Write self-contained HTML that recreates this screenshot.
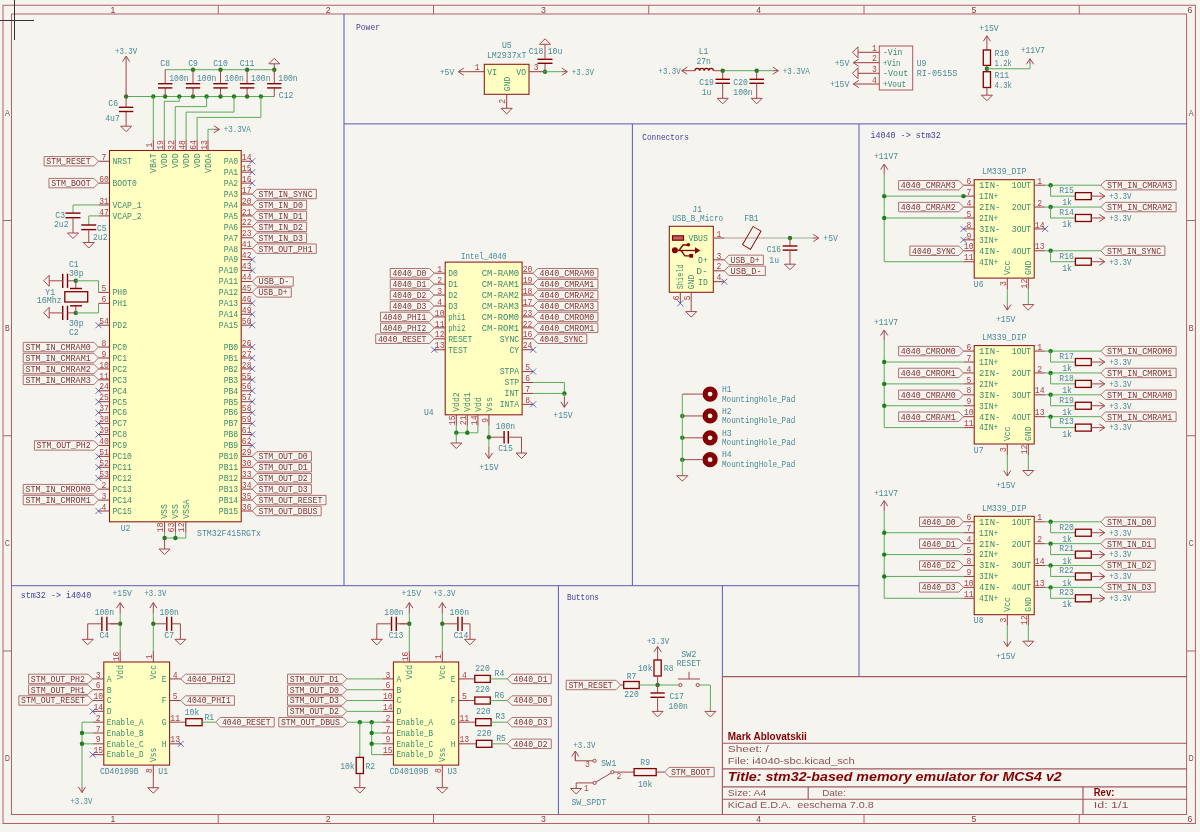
<!DOCTYPE html><html><head><meta charset="utf-8"><style>
body{margin:0;background:#f5f4ef;}
svg{display:block;will-change:transform;}
text{font-family:"Liberation Mono",monospace;font-size:9px;white-space:pre;}
.w{stroke:#5caa5c;stroke-width:1;fill:none;}
.j{fill:#1a801a;}
.ps{stroke:#a0464e;stroke-width:1;fill:none;}
.gs{stroke:#a0464e;stroke-width:1;fill:none;}
.cp{stroke:#840000;stroke-width:1.4;}
.rb{stroke:#840000;stroke-width:1.3;fill:none;}
.nc{stroke:#4a4aa8;stroke-width:0.8;}
.gl{stroke:#aa6a6a;stroke-width:0.95;fill:none;}
.pn{stroke:#9a3a3a;stroke-width:1;fill:none;}
.bdn{stroke:#a85a5a;stroke-width:1;fill:none;}
.bd{stroke:#8a1818;stroke-width:1.05;fill:#ffffc2;}
.rf{fill:#4a8a94;}
.lt{fill:#7a3434;}
.pnum{fill:#a84444;}
.pname{fill:#3a8a70;}
.tbl{stroke:#a05860;stroke-width:1.15;fill:none;}
.ws{stroke:#b0606a;stroke-width:1;fill:none;}
.wt{fill:#8a3a3a;font-size:9.5px;font-family:"Liberation Sans",sans-serif;}
.nl{stroke:#5a5ab8;stroke-width:1;fill:none;}
.nt{fill:#4444a0;font-size:8.5px;}
.tb{fill:#840000;}
.tr{fill:#8a5458;font-size:8.7px;}
.sw{stroke:#a0464e;stroke-width:1;fill:none;}
.cur{stroke:#333;stroke-width:1;}
.mix1{stroke:#b09a98;stroke-width:1.1;}
.mix2{stroke:#9aae98;stroke-width:1.1;}
.usbr{stroke:#840000;stroke-width:1.2;fill:#c06060;}
.usbl{stroke:#840000;stroke-width:1.3;fill:none;}
.usbf{fill:#840000;stroke:none;}
</style></head><body><svg xmlns="http://www.w3.org/2000/svg" width="1200" height="832" viewBox="0 0 1200 832"><rect x="0" y="0" width="1200" height="832" fill="#f5f4ef"/><rect x="3" y="5.25" width="1192.4" height="818.25" class="ws"/>
<rect x="11.5" y="14" width="1175.1" height="800.5" class="ws"/>
<line x1="218.25" y1="5.25" x2="218.25" y2="14" class="ws"/>
<line x1="218.25" y1="814.5" x2="218.25" y2="823.5" class="ws"/>
<line x1="433.5" y1="5.25" x2="433.5" y2="14" class="ws"/>
<line x1="433.5" y1="814.5" x2="433.5" y2="823.5" class="ws"/>
<line x1="648.75" y1="5.25" x2="648.75" y2="14" class="ws"/>
<line x1="648.75" y1="814.5" x2="648.75" y2="823.5" class="ws"/>
<line x1="864" y1="5.25" x2="864" y2="14" class="ws"/>
<line x1="864" y1="814.5" x2="864" y2="823.5" class="ws"/>
<line x1="1079.25" y1="5.25" x2="1079.25" y2="14" class="ws"/>
<line x1="1079.25" y1="814.5" x2="1079.25" y2="823.5" class="ws"/>
<text x="113" y="12.65" text-anchor="middle" class="wt" textLength="4.85" lengthAdjust="spacingAndGlyphs">1</text>
<text x="113" y="822.05" text-anchor="middle" class="wt" textLength="4.85" lengthAdjust="spacingAndGlyphs">1</text>
<text x="328.25" y="12.65" text-anchor="middle" class="wt" textLength="4.85" lengthAdjust="spacingAndGlyphs">2</text>
<text x="328.25" y="822.05" text-anchor="middle" class="wt" textLength="4.85" lengthAdjust="spacingAndGlyphs">2</text>
<text x="543.5" y="12.65" text-anchor="middle" class="wt" textLength="4.85" lengthAdjust="spacingAndGlyphs">3</text>
<text x="543.5" y="822.05" text-anchor="middle" class="wt" textLength="4.85" lengthAdjust="spacingAndGlyphs">3</text>
<text x="758.75" y="12.65" text-anchor="middle" class="wt" textLength="4.85" lengthAdjust="spacingAndGlyphs">4</text>
<text x="758.75" y="822.05" text-anchor="middle" class="wt" textLength="4.85" lengthAdjust="spacingAndGlyphs">4</text>
<text x="974" y="12.65" text-anchor="middle" class="wt" textLength="4.85" lengthAdjust="spacingAndGlyphs">5</text>
<text x="974" y="822.05" text-anchor="middle" class="wt" textLength="4.85" lengthAdjust="spacingAndGlyphs">5</text>
<text x="1190" y="12.65" text-anchor="middle" class="wt" textLength="4.85" lengthAdjust="spacingAndGlyphs">6</text>
<text x="1190" y="822.05" text-anchor="middle" class="wt" textLength="4.85" lengthAdjust="spacingAndGlyphs">6</text>
<line x1="3" y1="220.5" x2="11.5" y2="220.5" class="ws"/>
<line x1="1187" y1="220.5" x2="1195.4" y2="220.5" class="ws"/>
<line x1="3" y1="435.75" x2="11.5" y2="435.75" class="ws"/>
<line x1="1187" y1="435.75" x2="1195.4" y2="435.75" class="ws"/>
<line x1="3" y1="651" x2="11.5" y2="651" class="ws"/>
<line x1="1187" y1="651" x2="1195.4" y2="651" class="ws"/>
<text x="7.3" y="115.7" text-anchor="middle" class="wt" textLength="4.85" lengthAdjust="spacingAndGlyphs">A</text>
<text x="1191.2" y="115.7" text-anchor="middle" class="wt" textLength="4.85" lengthAdjust="spacingAndGlyphs">A</text>
<text x="7.3" y="330.95" text-anchor="middle" class="wt" textLength="4.85" lengthAdjust="spacingAndGlyphs">B</text>
<text x="1191.2" y="330.95" text-anchor="middle" class="wt" textLength="4.85" lengthAdjust="spacingAndGlyphs">B</text>
<text x="7.3" y="546.2" text-anchor="middle" class="wt" textLength="4.85" lengthAdjust="spacingAndGlyphs">C</text>
<text x="1191.2" y="546.2" text-anchor="middle" class="wt" textLength="4.85" lengthAdjust="spacingAndGlyphs">C</text>
<text x="7.3" y="761.45" text-anchor="middle" class="wt" textLength="4.85" lengthAdjust="spacingAndGlyphs">D</text>
<text x="1191.2" y="761.45" text-anchor="middle" class="wt" textLength="4.85" lengthAdjust="spacingAndGlyphs">D</text>
<line x1="14.5" y1="0" x2="14.5" y2="40" class="cur"/>
<line x1="0" y1="20.5" x2="34" y2="20.5" class="cur"/>
<line x1="344" y1="14" x2="344" y2="585.7" class="nl"/>
<line x1="344" y1="123.9" x2="1187" y2="123.9" class="nl"/>
<line x1="632.4" y1="123.9" x2="632.4" y2="585.7" class="nl"/>
<line x1="859" y1="123.9" x2="859" y2="676.6" class="nl"/>
<line x1="11.5" y1="585.7" x2="859" y2="585.7" class="nl"/>
<line x1="558.4" y1="585.7" x2="558.4" y2="814.5" class="nl"/>
<line x1="722.4" y1="585.7" x2="722.4" y2="676.6" class="nl"/>
<text x="356" y="30.15" text-anchor="start" class="nt" textLength="24.03" lengthAdjust="spacingAndGlyphs">Power</text>
<text x="642.3" y="140.15" text-anchor="start" class="nt" textLength="46.56" lengthAdjust="spacingAndGlyphs">Connectors</text>
<text x="870.4" y="137.55" text-anchor="start" class="nt" textLength="70.5" lengthAdjust="spacingAndGlyphs">i4040 -&gt; stm32</text>
<text x="20.7" y="598.35" text-anchor="start" class="nt" textLength="70.5" lengthAdjust="spacingAndGlyphs">stm32 -&gt; i4040</text>
<text x="566.9" y="599.85" text-anchor="start" class="nt" textLength="32.01" lengthAdjust="spacingAndGlyphs">Buttons</text>
<rect x="109.5" y="150.5" width="131.7" height="371.3" class="bd"/>
<line x1="98.5" y1="161.25" x2="109.5" y2="161.25" class="pn"/>
<text x="104" y="159.9" text-anchor="middle" class="pnum" textLength="4.85" lengthAdjust="spacingAndGlyphs">7</text>
<text x="112.5" y="164.1" text-anchor="start" class="pname" textLength="19.4" lengthAdjust="spacingAndGlyphs">NRST</text>
<line x1="98.5" y1="183.11" x2="109.5" y2="183.11" class="pn"/>
<text x="104" y="181.76" text-anchor="middle" class="pnum" textLength="9.7" lengthAdjust="spacingAndGlyphs">60</text>
<text x="112.5" y="185.96" text-anchor="start" class="pname" textLength="24.25" lengthAdjust="spacingAndGlyphs">BOOT0</text>
<line x1="98.5" y1="204.97" x2="109.5" y2="204.97" class="pn"/>
<text x="104" y="203.62" text-anchor="middle" class="pnum" textLength="9.7" lengthAdjust="spacingAndGlyphs">31</text>
<text x="112.5" y="207.82" text-anchor="start" class="pname" textLength="29.1" lengthAdjust="spacingAndGlyphs">VCAP_1</text>
<line x1="98.5" y1="215.9" x2="109.5" y2="215.9" class="pn"/>
<text x="104" y="214.55" text-anchor="middle" class="pnum" textLength="9.7" lengthAdjust="spacingAndGlyphs">47</text>
<text x="112.5" y="218.75" text-anchor="start" class="pname" textLength="29.1" lengthAdjust="spacingAndGlyphs">VCAP_2</text>
<line x1="98.5" y1="292.41" x2="109.5" y2="292.41" class="pn"/>
<text x="104" y="291.06" text-anchor="middle" class="pnum" textLength="4.85" lengthAdjust="spacingAndGlyphs">5</text>
<text x="112.5" y="295.26" text-anchor="start" class="pname" textLength="14.55" lengthAdjust="spacingAndGlyphs">PH0</text>
<line x1="98.5" y1="303.34" x2="109.5" y2="303.34" class="pn"/>
<text x="104" y="301.99" text-anchor="middle" class="pnum" textLength="4.85" lengthAdjust="spacingAndGlyphs">6</text>
<text x="112.5" y="306.19" text-anchor="start" class="pname" textLength="14.55" lengthAdjust="spacingAndGlyphs">PH1</text>
<line x1="98.5" y1="325.2" x2="109.5" y2="325.2" class="pn"/>
<text x="104" y="323.85" text-anchor="middle" class="pnum" textLength="9.7" lengthAdjust="spacingAndGlyphs">54</text>
<text x="112.5" y="328.05" text-anchor="start" class="pname" textLength="14.55" lengthAdjust="spacingAndGlyphs">PD2</text>
<line x1="98.5" y1="347.06" x2="109.5" y2="347.06" class="pn"/>
<text x="104" y="345.71" text-anchor="middle" class="pnum" textLength="4.85" lengthAdjust="spacingAndGlyphs">8</text>
<text x="112.5" y="349.91" text-anchor="start" class="pname" textLength="14.55" lengthAdjust="spacingAndGlyphs">PC0</text>
<line x1="98.5" y1="357.99" x2="109.5" y2="357.99" class="pn"/>
<text x="104" y="356.64" text-anchor="middle" class="pnum" textLength="4.85" lengthAdjust="spacingAndGlyphs">9</text>
<text x="112.5" y="360.84" text-anchor="start" class="pname" textLength="14.55" lengthAdjust="spacingAndGlyphs">PC1</text>
<line x1="98.5" y1="368.92" x2="109.5" y2="368.92" class="pn"/>
<text x="104" y="367.57" text-anchor="middle" class="pnum" textLength="9.7" lengthAdjust="spacingAndGlyphs">10</text>
<text x="112.5" y="371.77" text-anchor="start" class="pname" textLength="14.55" lengthAdjust="spacingAndGlyphs">PC2</text>
<line x1="98.5" y1="379.85" x2="109.5" y2="379.85" class="pn"/>
<text x="104" y="378.5" text-anchor="middle" class="pnum" textLength="9.7" lengthAdjust="spacingAndGlyphs">11</text>
<text x="112.5" y="382.7" text-anchor="start" class="pname" textLength="14.55" lengthAdjust="spacingAndGlyphs">PC3</text>
<line x1="98.5" y1="390.78" x2="109.5" y2="390.78" class="pn"/>
<text x="104" y="389.43" text-anchor="middle" class="pnum" textLength="9.7" lengthAdjust="spacingAndGlyphs">24</text>
<text x="112.5" y="393.63" text-anchor="start" class="pname" textLength="14.55" lengthAdjust="spacingAndGlyphs">PC4</text>
<line x1="98.5" y1="401.71" x2="109.5" y2="401.71" class="pn"/>
<text x="104" y="400.36" text-anchor="middle" class="pnum" textLength="9.7" lengthAdjust="spacingAndGlyphs">25</text>
<text x="112.5" y="404.56" text-anchor="start" class="pname" textLength="14.55" lengthAdjust="spacingAndGlyphs">PC5</text>
<line x1="98.5" y1="412.64" x2="109.5" y2="412.64" class="pn"/>
<text x="104" y="411.29" text-anchor="middle" class="pnum" textLength="9.7" lengthAdjust="spacingAndGlyphs">37</text>
<text x="112.5" y="415.49" text-anchor="start" class="pname" textLength="14.55" lengthAdjust="spacingAndGlyphs">PC6</text>
<line x1="98.5" y1="423.57" x2="109.5" y2="423.57" class="pn"/>
<text x="104" y="422.22" text-anchor="middle" class="pnum" textLength="9.7" lengthAdjust="spacingAndGlyphs">38</text>
<text x="112.5" y="426.42" text-anchor="start" class="pname" textLength="14.55" lengthAdjust="spacingAndGlyphs">PC7</text>
<line x1="98.5" y1="434.5" x2="109.5" y2="434.5" class="pn"/>
<text x="104" y="433.15" text-anchor="middle" class="pnum" textLength="9.7" lengthAdjust="spacingAndGlyphs">39</text>
<text x="112.5" y="437.35" text-anchor="start" class="pname" textLength="14.55" lengthAdjust="spacingAndGlyphs">PC8</text>
<line x1="98.5" y1="445.43" x2="109.5" y2="445.43" class="pn"/>
<text x="104" y="444.08" text-anchor="middle" class="pnum" textLength="9.7" lengthAdjust="spacingAndGlyphs">40</text>
<text x="112.5" y="448.28" text-anchor="start" class="pname" textLength="14.55" lengthAdjust="spacingAndGlyphs">PC9</text>
<line x1="98.5" y1="456.36" x2="109.5" y2="456.36" class="pn"/>
<text x="104" y="455.01" text-anchor="middle" class="pnum" textLength="9.7" lengthAdjust="spacingAndGlyphs">51</text>
<text x="112.5" y="459.21" text-anchor="start" class="pname" textLength="19.4" lengthAdjust="spacingAndGlyphs">PC10</text>
<line x1="98.5" y1="467.29" x2="109.5" y2="467.29" class="pn"/>
<text x="104" y="465.94" text-anchor="middle" class="pnum" textLength="9.7" lengthAdjust="spacingAndGlyphs">52</text>
<text x="112.5" y="470.14" text-anchor="start" class="pname" textLength="19.4" lengthAdjust="spacingAndGlyphs">PC11</text>
<line x1="98.5" y1="478.22" x2="109.5" y2="478.22" class="pn"/>
<text x="104" y="476.87" text-anchor="middle" class="pnum" textLength="9.7" lengthAdjust="spacingAndGlyphs">53</text>
<text x="112.5" y="481.07" text-anchor="start" class="pname" textLength="19.4" lengthAdjust="spacingAndGlyphs">PC12</text>
<line x1="98.5" y1="489.15" x2="109.5" y2="489.15" class="pn"/>
<text x="104" y="487.8" text-anchor="middle" class="pnum" textLength="4.85" lengthAdjust="spacingAndGlyphs">2</text>
<text x="112.5" y="492" text-anchor="start" class="pname" textLength="19.4" lengthAdjust="spacingAndGlyphs">PC13</text>
<line x1="98.5" y1="500.08" x2="109.5" y2="500.08" class="pn"/>
<text x="104" y="498.73" text-anchor="middle" class="pnum" textLength="4.85" lengthAdjust="spacingAndGlyphs">3</text>
<text x="112.5" y="502.93" text-anchor="start" class="pname" textLength="19.4" lengthAdjust="spacingAndGlyphs">PC14</text>
<line x1="98.5" y1="511.01" x2="109.5" y2="511.01" class="pn"/>
<text x="104" y="509.66" text-anchor="middle" class="pnum" textLength="4.85" lengthAdjust="spacingAndGlyphs">4</text>
<text x="112.5" y="513.86" text-anchor="start" class="pname" textLength="19.4" lengthAdjust="spacingAndGlyphs">PC15</text>
<line x1="241.2" y1="161.25" x2="252.2" y2="161.25" class="pn"/>
<text x="246.7" y="159.9" text-anchor="middle" class="pnum" textLength="9.7" lengthAdjust="spacingAndGlyphs">14</text>
<text x="238.2" y="164.1" text-anchor="end" class="pname" textLength="14.55" lengthAdjust="spacingAndGlyphs">PA0</text>
<line x1="241.2" y1="172.18" x2="252.2" y2="172.18" class="pn"/>
<text x="246.7" y="170.83" text-anchor="middle" class="pnum" textLength="9.7" lengthAdjust="spacingAndGlyphs">15</text>
<text x="238.2" y="175.03" text-anchor="end" class="pname" textLength="14.55" lengthAdjust="spacingAndGlyphs">PA1</text>
<line x1="241.2" y1="183.11" x2="252.2" y2="183.11" class="pn"/>
<text x="246.7" y="181.76" text-anchor="middle" class="pnum" textLength="9.7" lengthAdjust="spacingAndGlyphs">16</text>
<text x="238.2" y="185.96" text-anchor="end" class="pname" textLength="14.55" lengthAdjust="spacingAndGlyphs">PA2</text>
<line x1="241.2" y1="194.04" x2="252.2" y2="194.04" class="pn"/>
<text x="246.7" y="192.69" text-anchor="middle" class="pnum" textLength="9.7" lengthAdjust="spacingAndGlyphs">17</text>
<text x="238.2" y="196.89" text-anchor="end" class="pname" textLength="14.55" lengthAdjust="spacingAndGlyphs">PA3</text>
<line x1="241.2" y1="204.97" x2="252.2" y2="204.97" class="pn"/>
<text x="246.7" y="203.62" text-anchor="middle" class="pnum" textLength="9.7" lengthAdjust="spacingAndGlyphs">20</text>
<text x="238.2" y="207.82" text-anchor="end" class="pname" textLength="14.55" lengthAdjust="spacingAndGlyphs">PA4</text>
<line x1="241.2" y1="215.9" x2="252.2" y2="215.9" class="pn"/>
<text x="246.7" y="214.55" text-anchor="middle" class="pnum" textLength="9.7" lengthAdjust="spacingAndGlyphs">21</text>
<text x="238.2" y="218.75" text-anchor="end" class="pname" textLength="14.55" lengthAdjust="spacingAndGlyphs">PA5</text>
<line x1="241.2" y1="226.83" x2="252.2" y2="226.83" class="pn"/>
<text x="246.7" y="225.48" text-anchor="middle" class="pnum" textLength="9.7" lengthAdjust="spacingAndGlyphs">22</text>
<text x="238.2" y="229.68" text-anchor="end" class="pname" textLength="14.55" lengthAdjust="spacingAndGlyphs">PA6</text>
<line x1="241.2" y1="237.76" x2="252.2" y2="237.76" class="pn"/>
<text x="246.7" y="236.41" text-anchor="middle" class="pnum" textLength="9.7" lengthAdjust="spacingAndGlyphs">23</text>
<text x="238.2" y="240.61" text-anchor="end" class="pname" textLength="14.55" lengthAdjust="spacingAndGlyphs">PA7</text>
<line x1="241.2" y1="248.69" x2="252.2" y2="248.69" class="pn"/>
<text x="246.7" y="247.34" text-anchor="middle" class="pnum" textLength="9.7" lengthAdjust="spacingAndGlyphs">41</text>
<text x="238.2" y="251.54" text-anchor="end" class="pname" textLength="14.55" lengthAdjust="spacingAndGlyphs">PA8</text>
<line x1="241.2" y1="259.62" x2="252.2" y2="259.62" class="pn"/>
<text x="246.7" y="258.27" text-anchor="middle" class="pnum" textLength="9.7" lengthAdjust="spacingAndGlyphs">42</text>
<text x="238.2" y="262.47" text-anchor="end" class="pname" textLength="14.55" lengthAdjust="spacingAndGlyphs">PA9</text>
<line x1="241.2" y1="270.55" x2="252.2" y2="270.55" class="pn"/>
<text x="246.7" y="269.2" text-anchor="middle" class="pnum" textLength="9.7" lengthAdjust="spacingAndGlyphs">43</text>
<text x="238.2" y="273.4" text-anchor="end" class="pname" textLength="19.4" lengthAdjust="spacingAndGlyphs">PA10</text>
<line x1="241.2" y1="281.48" x2="252.2" y2="281.48" class="pn"/>
<text x="246.7" y="280.13" text-anchor="middle" class="pnum" textLength="9.7" lengthAdjust="spacingAndGlyphs">44</text>
<text x="238.2" y="284.33" text-anchor="end" class="pname" textLength="19.4" lengthAdjust="spacingAndGlyphs">PA11</text>
<line x1="241.2" y1="292.41" x2="252.2" y2="292.41" class="pn"/>
<text x="246.7" y="291.06" text-anchor="middle" class="pnum" textLength="9.7" lengthAdjust="spacingAndGlyphs">45</text>
<text x="238.2" y="295.26" text-anchor="end" class="pname" textLength="19.4" lengthAdjust="spacingAndGlyphs">PA12</text>
<line x1="241.2" y1="303.34" x2="252.2" y2="303.34" class="pn"/>
<text x="246.7" y="301.99" text-anchor="middle" class="pnum" textLength="9.7" lengthAdjust="spacingAndGlyphs">46</text>
<text x="238.2" y="306.19" text-anchor="end" class="pname" textLength="19.4" lengthAdjust="spacingAndGlyphs">PA13</text>
<line x1="241.2" y1="314.27" x2="252.2" y2="314.27" class="pn"/>
<text x="246.7" y="312.92" text-anchor="middle" class="pnum" textLength="9.7" lengthAdjust="spacingAndGlyphs">49</text>
<text x="238.2" y="317.12" text-anchor="end" class="pname" textLength="19.4" lengthAdjust="spacingAndGlyphs">PA14</text>
<line x1="241.2" y1="325.2" x2="252.2" y2="325.2" class="pn"/>
<text x="246.7" y="323.85" text-anchor="middle" class="pnum" textLength="9.7" lengthAdjust="spacingAndGlyphs">50</text>
<text x="238.2" y="328.05" text-anchor="end" class="pname" textLength="19.4" lengthAdjust="spacingAndGlyphs">PA15</text>
<line x1="241.2" y1="347.06" x2="252.2" y2="347.06" class="pn"/>
<text x="246.7" y="345.71" text-anchor="middle" class="pnum" textLength="9.7" lengthAdjust="spacingAndGlyphs">26</text>
<text x="238.2" y="349.91" text-anchor="end" class="pname" textLength="14.55" lengthAdjust="spacingAndGlyphs">PB0</text>
<line x1="241.2" y1="357.99" x2="252.2" y2="357.99" class="pn"/>
<text x="246.7" y="356.64" text-anchor="middle" class="pnum" textLength="9.7" lengthAdjust="spacingAndGlyphs">27</text>
<text x="238.2" y="360.84" text-anchor="end" class="pname" textLength="14.55" lengthAdjust="spacingAndGlyphs">PB1</text>
<line x1="241.2" y1="368.92" x2="252.2" y2="368.92" class="pn"/>
<text x="246.7" y="367.57" text-anchor="middle" class="pnum" textLength="9.7" lengthAdjust="spacingAndGlyphs">28</text>
<text x="238.2" y="371.77" text-anchor="end" class="pname" textLength="14.55" lengthAdjust="spacingAndGlyphs">PB2</text>
<line x1="241.2" y1="379.85" x2="252.2" y2="379.85" class="pn"/>
<text x="246.7" y="378.5" text-anchor="middle" class="pnum" textLength="9.7" lengthAdjust="spacingAndGlyphs">55</text>
<text x="238.2" y="382.7" text-anchor="end" class="pname" textLength="14.55" lengthAdjust="spacingAndGlyphs">PB3</text>
<line x1="241.2" y1="390.78" x2="252.2" y2="390.78" class="pn"/>
<text x="246.7" y="389.43" text-anchor="middle" class="pnum" textLength="9.7" lengthAdjust="spacingAndGlyphs">56</text>
<text x="238.2" y="393.63" text-anchor="end" class="pname" textLength="14.55" lengthAdjust="spacingAndGlyphs">PB4</text>
<line x1="241.2" y1="401.71" x2="252.2" y2="401.71" class="pn"/>
<text x="246.7" y="400.36" text-anchor="middle" class="pnum" textLength="9.7" lengthAdjust="spacingAndGlyphs">57</text>
<text x="238.2" y="404.56" text-anchor="end" class="pname" textLength="14.55" lengthAdjust="spacingAndGlyphs">PB5</text>
<line x1="241.2" y1="412.64" x2="252.2" y2="412.64" class="pn"/>
<text x="246.7" y="411.29" text-anchor="middle" class="pnum" textLength="9.7" lengthAdjust="spacingAndGlyphs">58</text>
<text x="238.2" y="415.49" text-anchor="end" class="pname" textLength="14.55" lengthAdjust="spacingAndGlyphs">PB6</text>
<line x1="241.2" y1="423.57" x2="252.2" y2="423.57" class="pn"/>
<text x="246.7" y="422.22" text-anchor="middle" class="pnum" textLength="9.7" lengthAdjust="spacingAndGlyphs">59</text>
<text x="238.2" y="426.42" text-anchor="end" class="pname" textLength="14.55" lengthAdjust="spacingAndGlyphs">PB7</text>
<line x1="241.2" y1="434.5" x2="252.2" y2="434.5" class="pn"/>
<text x="246.7" y="433.15" text-anchor="middle" class="pnum" textLength="9.7" lengthAdjust="spacingAndGlyphs">61</text>
<text x="238.2" y="437.35" text-anchor="end" class="pname" textLength="14.55" lengthAdjust="spacingAndGlyphs">PB8</text>
<line x1="241.2" y1="445.43" x2="252.2" y2="445.43" class="pn"/>
<text x="246.7" y="444.08" text-anchor="middle" class="pnum" textLength="9.7" lengthAdjust="spacingAndGlyphs">62</text>
<text x="238.2" y="448.28" text-anchor="end" class="pname" textLength="14.55" lengthAdjust="spacingAndGlyphs">PB9</text>
<line x1="241.2" y1="456.36" x2="252.2" y2="456.36" class="pn"/>
<text x="246.7" y="455.01" text-anchor="middle" class="pnum" textLength="9.7" lengthAdjust="spacingAndGlyphs">29</text>
<text x="238.2" y="459.21" text-anchor="end" class="pname" textLength="19.4" lengthAdjust="spacingAndGlyphs">PB10</text>
<line x1="241.2" y1="467.29" x2="252.2" y2="467.29" class="pn"/>
<text x="246.7" y="465.94" text-anchor="middle" class="pnum" textLength="9.7" lengthAdjust="spacingAndGlyphs">30</text>
<text x="238.2" y="470.14" text-anchor="end" class="pname" textLength="19.4" lengthAdjust="spacingAndGlyphs">PB11</text>
<line x1="241.2" y1="478.22" x2="252.2" y2="478.22" class="pn"/>
<text x="246.7" y="476.87" text-anchor="middle" class="pnum" textLength="9.7" lengthAdjust="spacingAndGlyphs">33</text>
<text x="238.2" y="481.07" text-anchor="end" class="pname" textLength="19.4" lengthAdjust="spacingAndGlyphs">PB12</text>
<line x1="241.2" y1="489.15" x2="252.2" y2="489.15" class="pn"/>
<text x="246.7" y="487.8" text-anchor="middle" class="pnum" textLength="9.7" lengthAdjust="spacingAndGlyphs">34</text>
<text x="238.2" y="492" text-anchor="end" class="pname" textLength="19.4" lengthAdjust="spacingAndGlyphs">PB13</text>
<line x1="241.2" y1="500.08" x2="252.2" y2="500.08" class="pn"/>
<text x="246.7" y="498.73" text-anchor="middle" class="pnum" textLength="9.7" lengthAdjust="spacingAndGlyphs">35</text>
<text x="238.2" y="502.93" text-anchor="end" class="pname" textLength="19.4" lengthAdjust="spacingAndGlyphs">PB14</text>
<line x1="241.2" y1="511.01" x2="252.2" y2="511.01" class="pn"/>
<text x="246.7" y="509.66" text-anchor="middle" class="pnum" textLength="9.7" lengthAdjust="spacingAndGlyphs">36</text>
<text x="238.2" y="513.86" text-anchor="end" class="pname" textLength="19.4" lengthAdjust="spacingAndGlyphs">PB15</text>
<polygon points="44.1,156.55 93.9,156.55 98.5,161.25 93.9,165.95 44.1,165.95" class="gl"/>
<text x="46.3" y="164.1" text-anchor="start" class="lt" textLength="44.4" lengthAdjust="spacingAndGlyphs">STM_RESET</text>
<polygon points="48.95,178.41 93.9,178.41 98.5,183.11 93.9,187.81 48.95,187.81" class="gl"/>
<text x="51.15" y="185.96" text-anchor="start" class="lt" textLength="39.55" lengthAdjust="spacingAndGlyphs">STM_BOOT</text>
<polygon points="23.19,342.36 93.9,342.36 98.5,347.06 93.9,351.76 23.19,351.76" class="gl"/>
<text x="25.39" y="349.91" text-anchor="start" class="lt" textLength="65.31" lengthAdjust="spacingAndGlyphs">STM_IN_CMRAM0</text>
<polygon points="23.19,353.29 93.9,353.29 98.5,357.99 93.9,362.69 23.19,362.69" class="gl"/>
<text x="25.39" y="360.84" text-anchor="start" class="lt" textLength="65.31" lengthAdjust="spacingAndGlyphs">STM_IN_CMRAM1</text>
<polygon points="23.19,364.22 93.9,364.22 98.5,368.92 93.9,373.62 23.19,373.62" class="gl"/>
<text x="25.39" y="371.77" text-anchor="start" class="lt" textLength="65.31" lengthAdjust="spacingAndGlyphs">STM_IN_CMRAM2</text>
<polygon points="23.19,375.15 93.9,375.15 98.5,379.85 93.9,384.55 23.19,384.55" class="gl"/>
<text x="25.39" y="382.7" text-anchor="start" class="lt" textLength="65.31" lengthAdjust="spacingAndGlyphs">STM_IN_CMRAM3</text>
<polygon points="34.4,440.73 93.9,440.73 98.5,445.43 93.9,450.13 34.4,450.13" class="gl"/>
<text x="36.6" y="448.28" text-anchor="start" class="lt" textLength="54.1" lengthAdjust="spacingAndGlyphs">STM_OUT_PH2</text>
<polygon points="23.19,484.45 93.9,484.45 98.5,489.15 93.9,493.85 23.19,493.85" class="gl"/>
<text x="25.39" y="492" text-anchor="start" class="lt" textLength="65.31" lengthAdjust="spacingAndGlyphs">STM_IN_CMROM0</text>
<polygon points="23.19,495.38 93.9,495.38 98.5,500.08 93.9,504.78 23.19,504.78" class="gl"/>
<text x="25.39" y="502.93" text-anchor="start" class="lt" textLength="65.31" lengthAdjust="spacingAndGlyphs">STM_IN_CMROM1</text>
<line x1="95.5" y1="322.2" x2="101.5" y2="328.2" class="nc"/>
<line x1="95.5" y1="328.2" x2="101.5" y2="322.2" class="nc"/>
<line x1="95.5" y1="387.78" x2="101.5" y2="393.78" class="nc"/>
<line x1="95.5" y1="393.78" x2="101.5" y2="387.78" class="nc"/>
<line x1="95.5" y1="398.71" x2="101.5" y2="404.71" class="nc"/>
<line x1="95.5" y1="404.71" x2="101.5" y2="398.71" class="nc"/>
<line x1="95.5" y1="409.64" x2="101.5" y2="415.64" class="nc"/>
<line x1="95.5" y1="415.64" x2="101.5" y2="409.64" class="nc"/>
<line x1="95.5" y1="420.57" x2="101.5" y2="426.57" class="nc"/>
<line x1="95.5" y1="426.57" x2="101.5" y2="420.57" class="nc"/>
<line x1="95.5" y1="431.5" x2="101.5" y2="437.5" class="nc"/>
<line x1="95.5" y1="437.5" x2="101.5" y2="431.5" class="nc"/>
<line x1="95.5" y1="453.36" x2="101.5" y2="459.36" class="nc"/>
<line x1="95.5" y1="459.36" x2="101.5" y2="453.36" class="nc"/>
<line x1="95.5" y1="464.29" x2="101.5" y2="470.29" class="nc"/>
<line x1="95.5" y1="470.29" x2="101.5" y2="464.29" class="nc"/>
<line x1="95.5" y1="475.22" x2="101.5" y2="481.22" class="nc"/>
<line x1="95.5" y1="481.22" x2="101.5" y2="475.22" class="nc"/>
<line x1="95.5" y1="508.01" x2="101.5" y2="514.01" class="nc"/>
<line x1="95.5" y1="514.01" x2="101.5" y2="508.01" class="nc"/>
<polygon points="252.2,194.04 256.8,189.34 316.3,189.34 316.3,198.74 256.8,198.74" class="gl"/>
<text x="258.5" y="196.89" text-anchor="start" class="lt" textLength="54.1" lengthAdjust="spacingAndGlyphs">STM_IN_SYNC</text>
<polygon points="252.2,204.97 256.8,200.27 306.6,200.27 306.6,209.67 256.8,209.67" class="gl"/>
<text x="258.5" y="207.82" text-anchor="start" class="lt" textLength="44.4" lengthAdjust="spacingAndGlyphs">STM_IN_D0</text>
<polygon points="252.2,215.9 256.8,211.2 306.6,211.2 306.6,220.6 256.8,220.6" class="gl"/>
<text x="258.5" y="218.75" text-anchor="start" class="lt" textLength="44.4" lengthAdjust="spacingAndGlyphs">STM_IN_D1</text>
<polygon points="252.2,226.83 256.8,222.13 306.6,222.13 306.6,231.53 256.8,231.53" class="gl"/>
<text x="258.5" y="229.68" text-anchor="start" class="lt" textLength="44.4" lengthAdjust="spacingAndGlyphs">STM_IN_D2</text>
<polygon points="252.2,237.76 256.8,233.06 306.6,233.06 306.6,242.46 256.8,242.46" class="gl"/>
<text x="258.5" y="240.61" text-anchor="start" class="lt" textLength="44.4" lengthAdjust="spacingAndGlyphs">STM_IN_D3</text>
<polygon points="252.2,248.69 256.8,243.99 316.3,243.99 316.3,253.39 256.8,253.39" class="gl"/>
<text x="258.5" y="251.54" text-anchor="start" class="lt" textLength="54.1" lengthAdjust="spacingAndGlyphs">STM_OUT_PH1</text>
<polygon points="252.2,281.48 256.8,276.78 293.24,276.78 293.24,286.18 256.8,286.18" class="gl"/>
<text x="258.5" y="284.33" text-anchor="start" class="lt" textLength="31.04" lengthAdjust="spacingAndGlyphs">USB_D-</text>
<polygon points="252.2,292.41 256.8,287.71 291.3,287.71 291.3,297.11 256.8,297.11" class="gl"/>
<text x="258.5" y="295.26" text-anchor="start" class="lt" textLength="29.1" lengthAdjust="spacingAndGlyphs">USB_D+</text>
<polygon points="252.2,456.36 256.8,451.66 311.45,451.66 311.45,461.06 256.8,461.06" class="gl"/>
<text x="258.5" y="459.21" text-anchor="start" class="lt" textLength="49.25" lengthAdjust="spacingAndGlyphs">STM_OUT_D0</text>
<polygon points="252.2,467.29 256.8,462.59 311.45,462.59 311.45,471.99 256.8,471.99" class="gl"/>
<text x="258.5" y="470.14" text-anchor="start" class="lt" textLength="49.25" lengthAdjust="spacingAndGlyphs">STM_OUT_D1</text>
<polygon points="252.2,478.22 256.8,473.52 311.45,473.52 311.45,482.92 256.8,482.92" class="gl"/>
<text x="258.5" y="481.07" text-anchor="start" class="lt" textLength="49.25" lengthAdjust="spacingAndGlyphs">STM_OUT_D2</text>
<polygon points="252.2,489.15 256.8,484.45 311.45,484.45 311.45,493.85 256.8,493.85" class="gl"/>
<text x="258.5" y="492" text-anchor="start" class="lt" textLength="49.25" lengthAdjust="spacingAndGlyphs">STM_OUT_D3</text>
<polygon points="252.2,500.08 256.8,495.38 326,495.38 326,504.78 256.8,504.78" class="gl"/>
<text x="258.5" y="502.93" text-anchor="start" class="lt" textLength="63.8" lengthAdjust="spacingAndGlyphs">STM_OUT_RESET</text>
<polygon points="252.2,511.01 256.8,506.31 321.15,506.31 321.15,515.71 256.8,515.71" class="gl"/>
<text x="258.5" y="513.86" text-anchor="start" class="lt" textLength="58.95" lengthAdjust="spacingAndGlyphs">STM_OUT_DBUS</text>
<line x1="249.2" y1="158.25" x2="255.2" y2="164.25" class="nc"/>
<line x1="249.2" y1="164.25" x2="255.2" y2="158.25" class="nc"/>
<line x1="249.2" y1="169.18" x2="255.2" y2="175.18" class="nc"/>
<line x1="249.2" y1="175.18" x2="255.2" y2="169.18" class="nc"/>
<line x1="249.2" y1="180.11" x2="255.2" y2="186.11" class="nc"/>
<line x1="249.2" y1="186.11" x2="255.2" y2="180.11" class="nc"/>
<line x1="249.2" y1="256.62" x2="255.2" y2="262.62" class="nc"/>
<line x1="249.2" y1="262.62" x2="255.2" y2="256.62" class="nc"/>
<line x1="249.2" y1="267.55" x2="255.2" y2="273.55" class="nc"/>
<line x1="249.2" y1="273.55" x2="255.2" y2="267.55" class="nc"/>
<line x1="249.2" y1="300.34" x2="255.2" y2="306.34" class="nc"/>
<line x1="249.2" y1="306.34" x2="255.2" y2="300.34" class="nc"/>
<line x1="249.2" y1="311.27" x2="255.2" y2="317.27" class="nc"/>
<line x1="249.2" y1="317.27" x2="255.2" y2="311.27" class="nc"/>
<line x1="249.2" y1="322.2" x2="255.2" y2="328.2" class="nc"/>
<line x1="249.2" y1="328.2" x2="255.2" y2="322.2" class="nc"/>
<line x1="249.2" y1="344.06" x2="255.2" y2="350.06" class="nc"/>
<line x1="249.2" y1="350.06" x2="255.2" y2="344.06" class="nc"/>
<line x1="249.2" y1="354.99" x2="255.2" y2="360.99" class="nc"/>
<line x1="249.2" y1="360.99" x2="255.2" y2="354.99" class="nc"/>
<line x1="249.2" y1="365.92" x2="255.2" y2="371.92" class="nc"/>
<line x1="249.2" y1="371.92" x2="255.2" y2="365.92" class="nc"/>
<line x1="249.2" y1="376.85" x2="255.2" y2="382.85" class="nc"/>
<line x1="249.2" y1="382.85" x2="255.2" y2="376.85" class="nc"/>
<line x1="249.2" y1="387.78" x2="255.2" y2="393.78" class="nc"/>
<line x1="249.2" y1="393.78" x2="255.2" y2="387.78" class="nc"/>
<line x1="249.2" y1="398.71" x2="255.2" y2="404.71" class="nc"/>
<line x1="249.2" y1="404.71" x2="255.2" y2="398.71" class="nc"/>
<line x1="249.2" y1="409.64" x2="255.2" y2="415.64" class="nc"/>
<line x1="249.2" y1="415.64" x2="255.2" y2="409.64" class="nc"/>
<line x1="249.2" y1="420.57" x2="255.2" y2="426.57" class="nc"/>
<line x1="249.2" y1="426.57" x2="255.2" y2="420.57" class="nc"/>
<line x1="249.2" y1="431.5" x2="255.2" y2="437.5" class="nc"/>
<line x1="249.2" y1="437.5" x2="255.2" y2="431.5" class="nc"/>
<line x1="249.2" y1="442.43" x2="255.2" y2="448.43" class="nc"/>
<line x1="249.2" y1="448.43" x2="255.2" y2="442.43" class="nc"/>
<line x1="153.3" y1="139.5" x2="153.3" y2="150.5" class="pn"/>
<text transform="translate(149.1,145) rotate(-90)" x="0" y="2.85" text-anchor="middle" class="pnum" textLength="4.85" lengthAdjust="spacingAndGlyphs">1</text>
<text transform="translate(153.3,153.5) rotate(-90)" x="0" y="2.85" text-anchor="end" class="pname" textLength="19.4" lengthAdjust="spacingAndGlyphs">VBAT</text>
<line x1="164.3" y1="139.5" x2="164.3" y2="150.5" class="pn"/>
<text transform="translate(160.1,145) rotate(-90)" x="0" y="2.85" text-anchor="middle" class="pnum" textLength="9.7" lengthAdjust="spacingAndGlyphs">19</text>
<text transform="translate(164.3,153.5) rotate(-90)" x="0" y="2.85" text-anchor="end" class="pname" textLength="14.55" lengthAdjust="spacingAndGlyphs">VDD</text>
<line x1="175.2" y1="139.5" x2="175.2" y2="150.5" class="pn"/>
<text transform="translate(171,145) rotate(-90)" x="0" y="2.85" text-anchor="middle" class="pnum" textLength="9.7" lengthAdjust="spacingAndGlyphs">32</text>
<text transform="translate(175.2,153.5) rotate(-90)" x="0" y="2.85" text-anchor="end" class="pname" textLength="14.55" lengthAdjust="spacingAndGlyphs">VDD</text>
<line x1="186.1" y1="139.5" x2="186.1" y2="150.5" class="pn"/>
<text transform="translate(181.9,145) rotate(-90)" x="0" y="2.85" text-anchor="middle" class="pnum" textLength="9.7" lengthAdjust="spacingAndGlyphs">48</text>
<text transform="translate(186.1,153.5) rotate(-90)" x="0" y="2.85" text-anchor="end" class="pname" textLength="14.55" lengthAdjust="spacingAndGlyphs">VDD</text>
<line x1="197.1" y1="139.5" x2="197.1" y2="150.5" class="pn"/>
<text transform="translate(192.9,145) rotate(-90)" x="0" y="2.85" text-anchor="middle" class="pnum" textLength="9.7" lengthAdjust="spacingAndGlyphs">64</text>
<text transform="translate(197.1,153.5) rotate(-90)" x="0" y="2.85" text-anchor="end" class="pname" textLength="14.55" lengthAdjust="spacingAndGlyphs">VDD</text>
<line x1="208" y1="139.5" x2="208" y2="150.5" class="pn"/>
<text transform="translate(203.8,145) rotate(-90)" x="0" y="2.85" text-anchor="middle" class="pnum" textLength="9.7" lengthAdjust="spacingAndGlyphs">13</text>
<text transform="translate(208,153.5) rotate(-90)" x="0" y="2.85" text-anchor="end" class="pname" textLength="19.4" lengthAdjust="spacingAndGlyphs">VDDA</text>
<line x1="164.6" y1="521.8" x2="164.6" y2="532.8" class="pn"/>
<text transform="translate(160.4,527.3) rotate(-90)" x="0" y="2.85" text-anchor="middle" class="pnum" textLength="9.7" lengthAdjust="spacingAndGlyphs">18</text>
<text transform="translate(164.6,518.8) rotate(-90)" x="0" y="2.85" text-anchor="start" class="pname" textLength="14.55" lengthAdjust="spacingAndGlyphs">VSS</text>
<line x1="175.4" y1="521.8" x2="175.4" y2="532.8" class="pn"/>
<text transform="translate(171.2,527.3) rotate(-90)" x="0" y="2.85" text-anchor="middle" class="pnum" textLength="9.7" lengthAdjust="spacingAndGlyphs">63</text>
<text transform="translate(175.4,518.8) rotate(-90)" x="0" y="2.85" text-anchor="start" class="pname" textLength="14.55" lengthAdjust="spacingAndGlyphs">VSS</text>
<line x1="185.8" y1="521.8" x2="185.8" y2="532.8" class="pn"/>
<text transform="translate(181.6,527.3) rotate(-90)" x="0" y="2.85" text-anchor="middle" class="pnum" textLength="9.7" lengthAdjust="spacingAndGlyphs">12</text>
<text transform="translate(185.8,518.8) rotate(-90)" x="0" y="2.85" text-anchor="start" class="pname" textLength="19.4" lengthAdjust="spacingAndGlyphs">VSSA</text>
<line x1="164.6" y1="532.8" x2="164.6" y2="538" class="w"/>
<line x1="175.4" y1="532.8" x2="175.4" y2="538" class="w"/>
<line x1="185.8" y1="532.8" x2="185.8" y2="538" class="w"/>
<line x1="164.6" y1="538" x2="185.8" y2="538" class="w"/>
<circle cx="164.6" cy="538" r="2.2" class="j"/>
<circle cx="175.4" cy="538" r="2.2" class="j"/>
<line x1="164.6" y1="538" x2="164.6" y2="549" class="ps"/>
<polygon points="159.1,549 170.1,549 164.6,554.5" class="gs"/>
<text x="120.7" y="530.65" text-anchor="start" class="rf" textLength="9.7" lengthAdjust="spacingAndGlyphs">U2</text>
<text x="197" y="535.85" text-anchor="start" class="rf" textLength="63.8" lengthAdjust="spacingAndGlyphs">STM32F415RGTx</text>
<line x1="126.1" y1="96.5" x2="274.3" y2="96.5" class="w"/>
<line x1="165.2" y1="69.7" x2="274.3" y2="69.7" class="w"/>
<circle cx="126.1" cy="96.5" r="2.2" class="j"/>
<circle cx="153.3" cy="96.5" r="2.2" class="j"/>
<circle cx="165.2" cy="96.5" r="2.2" class="j"/>
<circle cx="179.3" cy="96.5" r="2.2" class="j"/>
<circle cx="193" cy="96.5" r="2.2" class="j"/>
<circle cx="206.6" cy="96.5" r="2.2" class="j"/>
<circle cx="220.5" cy="96.5" r="2.2" class="j"/>
<circle cx="234" cy="96.5" r="2.2" class="j"/>
<circle cx="247.1" cy="96.5" r="2.2" class="j"/>
<circle cx="260.9" cy="96.5" r="2.2" class="j"/>
<circle cx="193" cy="69.7" r="2.2" class="j"/>
<circle cx="220.5" cy="69.7" r="2.2" class="j"/>
<circle cx="247.1" cy="69.7" r="2.2" class="j"/>
<circle cx="274.3" cy="69.7" r="2.2" class="j"/>
<line x1="165.2" y1="69.7" x2="165.2" y2="83.7" class="ps"/>
<line x1="165.2" y1="87.9" x2="165.2" y2="96.5" class="ps"/>
<line x1="158" y1="83.7" x2="172.4" y2="83.7" class="cp"/>
<line x1="158" y1="87.9" x2="172.4" y2="87.9" class="cp"/>
<text x="169.2" y="80.95" text-anchor="start" class="rf" textLength="19.4" lengthAdjust="spacingAndGlyphs">100n</text>
<text x="165.2" y="65.85" text-anchor="middle" class="rf" textLength="9.7" lengthAdjust="spacingAndGlyphs">C8</text>
<line x1="193" y1="69.7" x2="193" y2="83.7" class="ps"/>
<line x1="193" y1="87.9" x2="193" y2="96.5" class="ps"/>
<line x1="185.8" y1="83.7" x2="200.2" y2="83.7" class="cp"/>
<line x1="185.8" y1="87.9" x2="200.2" y2="87.9" class="cp"/>
<text x="197" y="80.95" text-anchor="start" class="rf" textLength="19.4" lengthAdjust="spacingAndGlyphs">100n</text>
<text x="193" y="65.85" text-anchor="middle" class="rf" textLength="9.7" lengthAdjust="spacingAndGlyphs">C9</text>
<line x1="220.5" y1="69.7" x2="220.5" y2="83.7" class="ps"/>
<line x1="220.5" y1="87.9" x2="220.5" y2="96.5" class="ps"/>
<line x1="213.3" y1="83.7" x2="227.7" y2="83.7" class="cp"/>
<line x1="213.3" y1="87.9" x2="227.7" y2="87.9" class="cp"/>
<text x="224.5" y="80.95" text-anchor="start" class="rf" textLength="19.4" lengthAdjust="spacingAndGlyphs">100n</text>
<text x="220.5" y="65.85" text-anchor="middle" class="rf" textLength="14.55" lengthAdjust="spacingAndGlyphs">C10</text>
<line x1="247.1" y1="69.7" x2="247.1" y2="83.7" class="ps"/>
<line x1="247.1" y1="87.9" x2="247.1" y2="96.5" class="ps"/>
<line x1="239.9" y1="83.7" x2="254.3" y2="83.7" class="cp"/>
<line x1="239.9" y1="87.9" x2="254.3" y2="87.9" class="cp"/>
<text x="251.1" y="80.95" text-anchor="start" class="rf" textLength="19.4" lengthAdjust="spacingAndGlyphs">100n</text>
<text x="247.1" y="65.85" text-anchor="middle" class="rf" textLength="14.55" lengthAdjust="spacingAndGlyphs">C11</text>
<line x1="274.3" y1="69.7" x2="274.3" y2="83.7" class="ps"/>
<line x1="274.3" y1="87.9" x2="274.3" y2="96.5" class="ps"/>
<line x1="267.1" y1="83.7" x2="281.5" y2="83.7" class="cp"/>
<line x1="267.1" y1="87.9" x2="281.5" y2="87.9" class="cp"/>
<text x="278.3" y="80.95" text-anchor="start" class="rf" textLength="19.4" lengthAdjust="spacingAndGlyphs">100n</text>
<text x="278.8" y="98.25" text-anchor="start" class="rf" textLength="14.55" lengthAdjust="spacingAndGlyphs">C12</text>
<line x1="274.3" y1="69.7" x2="274.3" y2="63.8" class="ps"/>
<polygon points="268.8,63.8 279.8,63.8 274.3,58.3" class="gs"/>
<polyline points="122.5,61.7 126.1,56.2 129.7,61.7" class="ps"/>
<line x1="126.1" y1="56.2" x2="126.1" y2="96.5" class="ps"/>
<text x="126.1" y="54.25" text-anchor="middle" class="rf" textLength="22.21" lengthAdjust="spacingAndGlyphs">+3.3V</text>
<line x1="126.1" y1="96.5" x2="126.1" y2="107.3" class="ps"/>
<line x1="126.1" y1="111.5" x2="126.1" y2="126.2" class="ps"/>
<line x1="118.9" y1="107.3" x2="133.3" y2="107.3" class="cp"/>
<line x1="118.9" y1="111.5" x2="133.3" y2="111.5" class="cp"/>
<polygon points="120.6,126.2 131.6,126.2 126.1,131.7" class="gs"/>
<text x="118" y="105.85" text-anchor="end" class="rf" textLength="9.7" lengthAdjust="spacingAndGlyphs">C6</text>
<text x="119.8" y="121.15" text-anchor="end" class="rf" textLength="14.55" lengthAdjust="spacingAndGlyphs">4u7</text>
<line x1="153.3" y1="139.5" x2="153.3" y2="96.5" class="w"/>
<polyline points="164.3,139.5 164.3,101.3 179.3,101.3 179.3,96.5" class="w"/>
<polyline points="175.2,139.5 175.2,106.6 206.6,106.6 206.6,96.5" class="w"/>
<polyline points="186.1,139.5 186.1,112.1 234,112.1 234,96.5" class="w"/>
<polyline points="197.1,139.5 197.1,117.4 260.9,117.4 260.9,96.5" class="w"/>
<polyline points="208,139.5 208,129.3 213.8,129.3" class="w"/>
<polyline points="213.8,125.7 219.3,129.3 213.8,132.9" class="ps"/>
<line x1="219.3" y1="129.3" x2="213.8" y2="129.3" class="ps"/>
<text x="223.8" y="132.15" text-anchor="start" class="rf" textLength="27.06" lengthAdjust="spacingAndGlyphs">+3.3VA</text>
<polyline points="98.5,204.97 73,204.97 73,213" class="w"/>
<line x1="65.5" y1="213.1" x2="80.5" y2="213.1" class="cp"/>
<line x1="65.5" y1="217.7" x2="80.5" y2="217.7" class="cp"/>
<line x1="73" y1="217.7" x2="73" y2="233" class="ps"/>
<polygon points="67.5,233 78.5,233 73,238.5" class="gs"/>
<text x="65" y="218.35" text-anchor="end" class="rf" textLength="9.7" lengthAdjust="spacingAndGlyphs">C3</text>
<text x="68.5" y="227.35" text-anchor="end" class="rf" textLength="14.55" lengthAdjust="spacingAndGlyphs">2u2</text>
<polyline points="98.5,215.9 88.75,215.9 88.75,225" class="w"/>
<line x1="81.25" y1="225" x2="96.25" y2="225" class="cp"/>
<line x1="81.25" y1="229.6" x2="96.25" y2="229.6" class="cp"/>
<line x1="88.75" y1="229.6" x2="88.75" y2="242.5" class="ps"/>
<polygon points="83.25,242.5 94.25,242.5 88.75,248" class="gs"/>
<text x="97" y="231.35" text-anchor="start" class="rf" textLength="9.7" lengthAdjust="spacingAndGlyphs">C5</text>
<text x="93" y="239.85" text-anchor="start" class="rf" textLength="14.55" lengthAdjust="spacingAndGlyphs">2u2</text>
<line x1="62.7" y1="273.7" x2="62.7" y2="287.9" class="cp"/>
<line x1="67.5" y1="273.7" x2="67.5" y2="287.9" class="cp"/>
<line x1="49.2" y1="280.8" x2="62.7" y2="280.8" class="ps"/>
<line x1="67.5" y1="280.8" x2="75.8" y2="280.8" class="ps"/>
<polygon points="49.2,275.3 49.2,286.3 43.7,280.8" class="gs"/>
<line x1="62.7" y1="305.8" x2="62.7" y2="320" class="cp"/>
<line x1="67.5" y1="305.8" x2="67.5" y2="320" class="cp"/>
<line x1="49.2" y1="312.9" x2="62.7" y2="312.9" class="ps"/>
<line x1="67.5" y1="312.9" x2="75.8" y2="312.9" class="ps"/>
<polygon points="49.2,307.4 49.2,318.4 43.7,312.9" class="gs"/>
<circle cx="75.8" cy="280.8" r="2.2" class="j"/>
<circle cx="75.8" cy="312.9" r="2.2" class="j"/>
<polyline points="75.8,280.8 98.5,280.8 98.5,292.41" class="w"/>
<polyline points="75.8,312.9 98.5,312.9 98.5,303.34" class="w"/>
<line x1="75.8" y1="280.8" x2="75.8" y2="288.5" class="ps"/>
<line x1="75.8" y1="305.8" x2="75.8" y2="312.9" class="ps"/>
<line x1="70" y1="288.5" x2="82" y2="288.5" class="cp"/>
<line x1="70" y1="305.8" x2="82" y2="305.8" class="cp"/>
<rect x="64.8" y="291.7" width="22.9" height="10.3" class="rb"/>
<text x="50.2" y="294.55" text-anchor="middle" class="rf" textLength="9.7" lengthAdjust="spacingAndGlyphs">Y1</text>
<text x="49.2" y="303.35" text-anchor="middle" class="rf" textLength="25" lengthAdjust="spacingAndGlyphs">16Mhz</text>
<text x="69" y="266.85" text-anchor="start" class="rf" textLength="9.7" lengthAdjust="spacingAndGlyphs">C1</text>
<text x="69" y="275.85" text-anchor="start" class="rf" textLength="14.55" lengthAdjust="spacingAndGlyphs">30p</text>
<text x="69" y="326.15" text-anchor="start" class="rf" textLength="14.55" lengthAdjust="spacingAndGlyphs">30p</text>
<text x="69" y="334.55" text-anchor="start" class="rf" textLength="9.7" lengthAdjust="spacingAndGlyphs">C2</text>
<rect x="484.3" y="64.3" width="44.7" height="30" class="bd"/>
<line x1="470" y1="71.7" x2="484.3" y2="71.7" class="pn"/>
<text x="477.15" y="70.35" text-anchor="middle" class="pnum" textLength="4.85" lengthAdjust="spacingAndGlyphs">1</text>
<text x="487.3" y="74.55" text-anchor="start" class="pname" textLength="9.7" lengthAdjust="spacingAndGlyphs">VI</text>
<line x1="529" y1="71.7" x2="543.3" y2="71.7" class="pn"/>
<text x="536.15" y="70.35" text-anchor="middle" class="pnum" textLength="4.85" lengthAdjust="spacingAndGlyphs">3</text>
<text x="526" y="74.55" text-anchor="end" class="pname" textLength="9.7" lengthAdjust="spacingAndGlyphs">VO</text>
<line x1="506.7" y1="94.3" x2="506.7" y2="108.3" class="pn"/>
<text transform="translate(502.5,101.3) rotate(-90)" x="0" y="2.85" text-anchor="middle" class="pnum" textLength="4.85" lengthAdjust="spacingAndGlyphs">2</text>
<text transform="translate(506.7,91.3) rotate(-90)" x="0" y="2.85" text-anchor="start" class="pname" textLength="14.55" lengthAdjust="spacingAndGlyphs">GND</text>
<polyline points="463.8,68.1 458.3,71.7 463.8,75.3" class="ps"/>
<line x1="458.3" y1="71.7" x2="470" y2="71.7" class="ps"/>
<text x="454.3" y="74.55" text-anchor="end" class="rf" textLength="14.55" lengthAdjust="spacingAndGlyphs">+5V</text>
<circle cx="545" cy="71.7" r="2.2" class="j"/>
<line x1="543.3" y1="71.7" x2="562" y2="71.7" class="w"/>
<polyline points="561.8,68.1 567.3,71.7 561.8,75.3" class="ps"/>
<line x1="567.3" y1="71.7" x2="562" y2="71.7" class="ps"/>
<text x="571.8" y="74.55" text-anchor="start" class="rf" textLength="22.21" lengthAdjust="spacingAndGlyphs">+3.3V</text>
<line x1="545" y1="63.4" x2="545" y2="71.7" class="ps"/>
<line x1="537.5" y1="59.3" x2="552.5" y2="59.3" class="cp"/>
<line x1="537.5" y1="63.3" x2="552.5" y2="63.3" class="cp"/>
<line x1="545" y1="44.3" x2="545" y2="59.3" class="ps"/>
<polygon points="539.5,44.3 550.5,44.3 545,38.8" class="gs"/>
<polygon points="501.2,108.3 512.2,108.3 506.7,113.8" class="gs"/>
<text x="506.8" y="47.85" text-anchor="middle" class="rf" textLength="9.7" lengthAdjust="spacingAndGlyphs">U5</text>
<text x="506.7" y="57.85" text-anchor="middle" class="rf" textLength="39.55" lengthAdjust="spacingAndGlyphs">LM2937xT</text>
<text x="543.3" y="53.55" text-anchor="end" class="rf" textLength="14.55" lengthAdjust="spacingAndGlyphs">C18</text>
<text x="547.7" y="53.55" text-anchor="start" class="rf" textLength="14.55" lengthAdjust="spacingAndGlyphs">10u</text>
<polyline points="687.2,67.1 681.7,70.7 687.2,74.3" class="ps"/>
<line x1="681.7" y1="70.7" x2="695" y2="70.7" class="ps"/>
<text x="680.7" y="73.55" text-anchor="end" class="rf" textLength="22.21" lengthAdjust="spacingAndGlyphs">+3.3V</text>
<path d="M695,70.7 a2.3,2.3 0 0 1 4.6,0 a2.3,2.3 0 0 1 4.6,0 a2.3,2.3 0 0 1 4.6,0 a2.3,2.3 0 0 1 4.6,0" class="cp" fill="none" style="stroke-width:1.2"/>
<line x1="713.4" y1="70.7" x2="722.7" y2="70.7" class="ps"/>
<line x1="722.7" y1="70.7" x2="772.8" y2="70.7" class="w"/>
<circle cx="722.7" cy="70.7" r="2.2" class="j"/>
<circle cx="756.7" cy="70.7" r="2.2" class="j"/>
<polyline points="772.8,67.1 778.3,70.7 772.8,74.3" class="ps"/>
<line x1="778.3" y1="70.7" x2="772.8" y2="70.7" class="ps"/>
<text x="782.8" y="73.55" text-anchor="start" class="rf" textLength="27.06" lengthAdjust="spacingAndGlyphs">+3.3VA</text>
<line x1="722.7" y1="70.7" x2="722.7" y2="79.3" class="ps"/>
<line x1="715.5" y1="79.3" x2="729.9" y2="79.3" class="cp"/>
<line x1="715.5" y1="83.3" x2="729.9" y2="83.3" class="cp"/>
<line x1="722.7" y1="83.3" x2="722.7" y2="98.3" class="ps"/>
<polygon points="717.2,98.3 728.2,98.3 722.7,103.8" class="gs"/>
<line x1="756.7" y1="70.7" x2="756.7" y2="79.3" class="ps"/>
<line x1="749.5" y1="79.3" x2="763.9" y2="79.3" class="cp"/>
<line x1="749.5" y1="83.3" x2="763.9" y2="83.3" class="cp"/>
<line x1="756.7" y1="83.3" x2="756.7" y2="98.3" class="ps"/>
<polygon points="751.2,98.3 762.2,98.3 756.7,103.8" class="gs"/>
<text x="699.3" y="84.55" text-anchor="start" class="rf" textLength="14.55" lengthAdjust="spacingAndGlyphs">C19</text>
<text x="706.5" y="94.55" text-anchor="middle" class="rf" textLength="9.7" lengthAdjust="spacingAndGlyphs">1u</text>
<text x="733.3" y="84.55" text-anchor="start" class="rf" textLength="14.55" lengthAdjust="spacingAndGlyphs">C20</text>
<text x="733.3" y="94.55" text-anchor="start" class="rf" textLength="19.4" lengthAdjust="spacingAndGlyphs">100n</text>
<text x="703.5" y="53.55" text-anchor="middle" class="rf" textLength="9.7" lengthAdjust="spacingAndGlyphs">L1</text>
<text x="703.7" y="63.55" text-anchor="middle" class="rf" textLength="14.55" lengthAdjust="spacingAndGlyphs">27n</text>
<rect x="879.3" y="46" width="33.4" height="44" class="bdn"/>
<line x1="858" y1="52.3" x2="879.3" y2="52.3" class="pn"/>
<text x="874.3" y="50.95" text-anchor="middle" class="pnum" textLength="4.85" lengthAdjust="spacingAndGlyphs">1</text>
<text x="883" y="55.15" text-anchor="start" class="pname" textLength="19.3" lengthAdjust="spacingAndGlyphs">-Vin</text>
<line x1="858" y1="62.7" x2="879.3" y2="62.7" class="pn"/>
<text x="874.3" y="61.35" text-anchor="middle" class="pnum" textLength="4.85" lengthAdjust="spacingAndGlyphs">2</text>
<text x="883" y="65.55" text-anchor="start" class="pname" textLength="17.36" lengthAdjust="spacingAndGlyphs">+Vin</text>
<line x1="858" y1="73.3" x2="879.3" y2="73.3" class="pn"/>
<text x="874.3" y="71.95" text-anchor="middle" class="pnum" textLength="4.85" lengthAdjust="spacingAndGlyphs">3</text>
<text x="883" y="76.15" text-anchor="start" class="pname" textLength="25.22" lengthAdjust="spacingAndGlyphs">-Vout</text>
<line x1="858" y1="84" x2="879.3" y2="84" class="pn"/>
<text x="874.3" y="82.65" text-anchor="middle" class="pnum" textLength="4.85" lengthAdjust="spacingAndGlyphs">4</text>
<text x="883" y="86.85" text-anchor="start" class="pname" textLength="23.28" lengthAdjust="spacingAndGlyphs">+Vout</text>
<polygon points="858,46.8 858,57.8 852.5,52.3" class="gs"/>
<polyline points="858.8,59.1 853.3,62.7 858.8,66.3" class="ps"/>
<line x1="853.3" y1="62.7" x2="858" y2="62.7" class="ps"/>
<text x="849.3" y="65.55" text-anchor="end" class="rf" textLength="14.55" lengthAdjust="spacingAndGlyphs">+5V</text>
<polygon points="858,67.8 858,78.8 852.5,73.3" class="gs"/>
<polyline points="858.8,80.4 853.3,84 858.8,87.6" class="ps"/>
<line x1="853.3" y1="84" x2="858" y2="84" class="ps"/>
<text x="849.3" y="86.85" text-anchor="end" class="rf" textLength="19.4" lengthAdjust="spacingAndGlyphs">+15V</text>
<text x="916.7" y="65.55" text-anchor="start" class="rf" textLength="9.7" lengthAdjust="spacingAndGlyphs">U9</text>
<text x="916.7" y="76.15" text-anchor="start" class="rf" textLength="40.74" lengthAdjust="spacingAndGlyphs">RI-0515S</text>
<polyline points="983.3,41.3 986.9,35.8 990.5,41.3" class="ps"/>
<line x1="986.9" y1="35.8" x2="986.9" y2="50" class="ps"/>
<text x="989" y="30.75" text-anchor="middle" class="rf" textLength="19.4" lengthAdjust="spacingAndGlyphs">+15V</text>
<rect x="983.3" y="50" width="7.2" height="15.4" class="rb"/>
<line x1="986.9" y1="65.4" x2="986.9" y2="71.7" class="ps"/>
<rect x="983.3" y="71.7" width="7.2" height="15.8" class="rb"/>
<line x1="986.9" y1="87.5" x2="986.9" y2="95.2" class="ps"/>
<polygon points="981.4,95.2 992.4,95.2 986.9,100.7" class="gs"/>
<circle cx="986.9" cy="68.75" r="2.2" class="j"/>
<polyline points="986.9,68.75 1030,68.75 1030,64" class="w"/>
<polyline points="1026.4,64.25 1030,58.75 1033.6,64.25" class="ps"/>
<line x1="1030" y1="58.75" x2="1030" y2="64" class="ps"/>
<text x="1032.8" y="52.85" text-anchor="middle" class="rf" textLength="24.25" lengthAdjust="spacingAndGlyphs">+11V7</text>
<text x="994.6" y="55.85" text-anchor="start" class="rf" textLength="14.55" lengthAdjust="spacingAndGlyphs">R10</text>
<text x="994.6" y="65.85" text-anchor="start" class="rf" textLength="17.36" lengthAdjust="spacingAndGlyphs">1.2k</text>
<text x="994.6" y="77.85" text-anchor="start" class="rf" textLength="14.55" lengthAdjust="spacingAndGlyphs">R11</text>
<text x="994.6" y="87.65" text-anchor="start" class="rf" textLength="17.36" lengthAdjust="spacingAndGlyphs">4.3k</text>
<rect x="445.2" y="262.1" width="76.9" height="152.7" class="bd"/>
<line x1="434.2" y1="273.2" x2="445.2" y2="273.2" class="pn"/>
<text x="439.7" y="271.85" text-anchor="middle" class="pnum" textLength="4.85" lengthAdjust="spacingAndGlyphs">1</text>
<text x="448.2" y="276.05" text-anchor="start" class="pname" textLength="9.7" lengthAdjust="spacingAndGlyphs">D0</text>
<polygon points="390.25,268.5 429.6,268.5 434.2,273.2 429.6,277.9 390.25,277.9" class="gl"/>
<text x="392.45" y="276.05" text-anchor="start" class="lt" textLength="33.95" lengthAdjust="spacingAndGlyphs">4040_D0</text>
<line x1="434.2" y1="284.13" x2="445.2" y2="284.13" class="pn"/>
<text x="439.7" y="282.78" text-anchor="middle" class="pnum" textLength="4.85" lengthAdjust="spacingAndGlyphs">2</text>
<text x="448.2" y="286.98" text-anchor="start" class="pname" textLength="9.7" lengthAdjust="spacingAndGlyphs">D1</text>
<polygon points="390.25,279.43 429.6,279.43 434.2,284.13 429.6,288.83 390.25,288.83" class="gl"/>
<text x="392.45" y="286.98" text-anchor="start" class="lt" textLength="33.95" lengthAdjust="spacingAndGlyphs">4040_D1</text>
<line x1="434.2" y1="295.06" x2="445.2" y2="295.06" class="pn"/>
<text x="439.7" y="293.71" text-anchor="middle" class="pnum" textLength="4.85" lengthAdjust="spacingAndGlyphs">3</text>
<text x="448.2" y="297.91" text-anchor="start" class="pname" textLength="9.7" lengthAdjust="spacingAndGlyphs">D2</text>
<polygon points="390.25,290.36 429.6,290.36 434.2,295.06 429.6,299.76 390.25,299.76" class="gl"/>
<text x="392.45" y="297.91" text-anchor="start" class="lt" textLength="33.95" lengthAdjust="spacingAndGlyphs">4040_D2</text>
<line x1="434.2" y1="305.99" x2="445.2" y2="305.99" class="pn"/>
<text x="439.7" y="304.64" text-anchor="middle" class="pnum" textLength="4.85" lengthAdjust="spacingAndGlyphs">4</text>
<text x="448.2" y="308.84" text-anchor="start" class="pname" textLength="9.7" lengthAdjust="spacingAndGlyphs">D3</text>
<polygon points="390.25,301.29 429.6,301.29 434.2,305.99 429.6,310.69 390.25,310.69" class="gl"/>
<text x="392.45" y="308.84" text-anchor="start" class="lt" textLength="33.95" lengthAdjust="spacingAndGlyphs">4040_D3</text>
<line x1="434.2" y1="316.92" x2="445.2" y2="316.92" class="pn"/>
<text x="439.7" y="315.57" text-anchor="middle" class="pnum" textLength="9.7" lengthAdjust="spacingAndGlyphs">10</text>
<text x="448.2" y="319.77" text-anchor="start" class="pname" textLength="17.36" lengthAdjust="spacingAndGlyphs">phi1</text>
<polygon points="380.55,312.22 429.6,312.22 434.2,316.92 429.6,321.62 380.55,321.62" class="gl"/>
<text x="382.75" y="319.77" text-anchor="start" class="lt" textLength="43.65" lengthAdjust="spacingAndGlyphs">4040_PHI1</text>
<line x1="434.2" y1="327.85" x2="445.2" y2="327.85" class="pn"/>
<text x="439.7" y="326.5" text-anchor="middle" class="pnum" textLength="9.7" lengthAdjust="spacingAndGlyphs">11</text>
<text x="448.2" y="330.7" text-anchor="start" class="pname" textLength="17.36" lengthAdjust="spacingAndGlyphs">phi2</text>
<polygon points="380.55,323.15 429.6,323.15 434.2,327.85 429.6,332.55 380.55,332.55" class="gl"/>
<text x="382.75" y="330.7" text-anchor="start" class="lt" textLength="43.65" lengthAdjust="spacingAndGlyphs">4040_PHI2</text>
<line x1="434.2" y1="338.78" x2="445.2" y2="338.78" class="pn"/>
<text x="439.7" y="337.43" text-anchor="middle" class="pnum" textLength="9.7" lengthAdjust="spacingAndGlyphs">12</text>
<text x="448.2" y="341.63" text-anchor="start" class="pname" textLength="24.25" lengthAdjust="spacingAndGlyphs">RESET</text>
<polygon points="375.7,334.08 429.6,334.08 434.2,338.78 429.6,343.48 375.7,343.48" class="gl"/>
<text x="377.9" y="341.63" text-anchor="start" class="lt" textLength="48.5" lengthAdjust="spacingAndGlyphs">4040_RESET</text>
<line x1="434.2" y1="349.71" x2="445.2" y2="349.71" class="pn"/>
<text x="439.7" y="348.36" text-anchor="middle" class="pnum" textLength="9.7" lengthAdjust="spacingAndGlyphs">13</text>
<text x="448.2" y="352.56" text-anchor="start" class="pname" textLength="19.4" lengthAdjust="spacingAndGlyphs">TEST</text>
<line x1="431.2" y1="346.71" x2="437.2" y2="352.71" class="nc"/>
<line x1="431.2" y1="352.71" x2="437.2" y2="346.71" class="nc"/>
<line x1="522.1" y1="273.2" x2="533.1" y2="273.2" class="pn"/>
<text x="527.6" y="271.85" text-anchor="middle" class="pnum" textLength="9.7" lengthAdjust="spacingAndGlyphs">20</text>
<text x="519.1" y="276.05" text-anchor="end" class="pname" textLength="37.39" lengthAdjust="spacingAndGlyphs">CM-RAM0</text>
<polygon points="533.1,273.2 537.7,268.5 597.95,268.5 597.95,277.9 537.7,277.9" class="gl"/>
<text x="539.4" y="276.05" text-anchor="start" class="lt" textLength="54.85" lengthAdjust="spacingAndGlyphs">4040_CMRAM0</text>
<line x1="522.1" y1="284.13" x2="533.1" y2="284.13" class="pn"/>
<text x="527.6" y="282.78" text-anchor="middle" class="pnum" textLength="9.7" lengthAdjust="spacingAndGlyphs">19</text>
<text x="519.1" y="286.98" text-anchor="end" class="pname" textLength="37.39" lengthAdjust="spacingAndGlyphs">CM-RAM1</text>
<polygon points="533.1,284.13 537.7,279.43 597.95,279.43 597.95,288.83 537.7,288.83" class="gl"/>
<text x="539.4" y="286.98" text-anchor="start" class="lt" textLength="54.85" lengthAdjust="spacingAndGlyphs">4040_CMRAM1</text>
<line x1="522.1" y1="295.06" x2="533.1" y2="295.06" class="pn"/>
<text x="527.6" y="293.71" text-anchor="middle" class="pnum" textLength="9.7" lengthAdjust="spacingAndGlyphs">18</text>
<text x="519.1" y="297.91" text-anchor="end" class="pname" textLength="37.39" lengthAdjust="spacingAndGlyphs">CM-RAM2</text>
<polygon points="533.1,295.06 537.7,290.36 597.95,290.36 597.95,299.76 537.7,299.76" class="gl"/>
<text x="539.4" y="297.91" text-anchor="start" class="lt" textLength="54.85" lengthAdjust="spacingAndGlyphs">4040_CMRAM2</text>
<line x1="522.1" y1="305.99" x2="533.1" y2="305.99" class="pn"/>
<text x="527.6" y="304.64" text-anchor="middle" class="pnum" textLength="9.7" lengthAdjust="spacingAndGlyphs">17</text>
<text x="519.1" y="308.84" text-anchor="end" class="pname" textLength="37.39" lengthAdjust="spacingAndGlyphs">CM-RAM3</text>
<polygon points="533.1,305.99 537.7,301.29 597.95,301.29 597.95,310.69 537.7,310.69" class="gl"/>
<text x="539.4" y="308.84" text-anchor="start" class="lt" textLength="54.85" lengthAdjust="spacingAndGlyphs">4040_CMRAM3</text>
<line x1="522.1" y1="316.92" x2="533.1" y2="316.92" class="pn"/>
<text x="527.6" y="315.57" text-anchor="middle" class="pnum" textLength="9.7" lengthAdjust="spacingAndGlyphs">23</text>
<text x="519.1" y="319.77" text-anchor="end" class="pname" textLength="37.39" lengthAdjust="spacingAndGlyphs">CM-ROM0</text>
<polygon points="533.1,316.92 537.7,312.22 597.95,312.22 597.95,321.62 537.7,321.62" class="gl"/>
<text x="539.4" y="319.77" text-anchor="start" class="lt" textLength="54.85" lengthAdjust="spacingAndGlyphs">4040_CMROM0</text>
<line x1="522.1" y1="327.85" x2="533.1" y2="327.85" class="pn"/>
<text x="527.6" y="326.5" text-anchor="middle" class="pnum" textLength="9.7" lengthAdjust="spacingAndGlyphs">22</text>
<text x="519.1" y="330.7" text-anchor="end" class="pname" textLength="37.39" lengthAdjust="spacingAndGlyphs">CM-ROM1</text>
<polygon points="533.1,327.85 537.7,323.15 597.95,323.15 597.95,332.55 537.7,332.55" class="gl"/>
<text x="539.4" y="330.7" text-anchor="start" class="lt" textLength="54.85" lengthAdjust="spacingAndGlyphs">4040_CMROM1</text>
<line x1="522.1" y1="338.78" x2="533.1" y2="338.78" class="pn"/>
<text x="527.6" y="337.43" text-anchor="middle" class="pnum" textLength="9.7" lengthAdjust="spacingAndGlyphs">16</text>
<text x="519.1" y="341.63" text-anchor="end" class="pname" textLength="19.4" lengthAdjust="spacingAndGlyphs">SYNC</text>
<polygon points="533.1,338.78 537.7,334.08 586.75,334.08 586.75,343.48 537.7,343.48" class="gl"/>
<text x="539.4" y="341.63" text-anchor="start" class="lt" textLength="43.65" lengthAdjust="spacingAndGlyphs">4040_SYNC</text>
<line x1="522.1" y1="349.71" x2="533.1" y2="349.71" class="pn"/>
<text x="527.6" y="348.36" text-anchor="middle" class="pnum" textLength="9.7" lengthAdjust="spacingAndGlyphs">24</text>
<text x="519.1" y="352.56" text-anchor="end" class="pname" textLength="9.7" lengthAdjust="spacingAndGlyphs">CY</text>
<line x1="530.1" y1="346.71" x2="536.1" y2="352.71" class="nc"/>
<line x1="530.1" y1="352.71" x2="536.1" y2="346.71" class="nc"/>
<line x1="522.1" y1="371.57" x2="533.1" y2="371.57" class="pn"/>
<text x="527.6" y="370.22" text-anchor="middle" class="pnum" textLength="4.85" lengthAdjust="spacingAndGlyphs">5</text>
<text x="519.1" y="374.42" text-anchor="end" class="pname" textLength="19.4" lengthAdjust="spacingAndGlyphs">STPA</text>
<line x1="522.1" y1="382.5" x2="533.1" y2="382.5" class="pn"/>
<text x="527.6" y="381.15" text-anchor="middle" class="pnum" textLength="4.85" lengthAdjust="spacingAndGlyphs">6</text>
<text x="519.1" y="385.35" text-anchor="end" class="pname" textLength="14.55" lengthAdjust="spacingAndGlyphs">STP</text>
<line x1="522.1" y1="393.43" x2="533.1" y2="393.43" class="pn"/>
<text x="527.6" y="392.08" text-anchor="middle" class="pnum" textLength="4.85" lengthAdjust="spacingAndGlyphs">7</text>
<text x="519.1" y="396.28" text-anchor="end" class="pname" textLength="14.55" lengthAdjust="spacingAndGlyphs">INT</text>
<line x1="522.1" y1="404.36" x2="533.1" y2="404.36" class="pn"/>
<text x="527.6" y="403.01" text-anchor="middle" class="pnum" textLength="4.85" lengthAdjust="spacingAndGlyphs">8</text>
<text x="519.1" y="407.21" text-anchor="end" class="pname" textLength="19.4" lengthAdjust="spacingAndGlyphs">INTA</text>
<line x1="530.1" y1="368.57" x2="536.1" y2="374.57" class="nc"/>
<line x1="530.1" y1="374.57" x2="536.1" y2="368.57" class="nc"/>
<line x1="530.1" y1="401.36" x2="536.1" y2="407.36" class="nc"/>
<line x1="530.1" y1="407.36" x2="536.1" y2="401.36" class="nc"/>
<polyline points="533.1,382.5 564.4,382.5 564.4,393.43" class="w"/>
<line x1="533.1" y1="393.43" x2="564.4" y2="393.43" class="w"/>
<circle cx="564.4" cy="393.43" r="2.2" class="j"/>
<line x1="564.4" y1="393.43" x2="564.4" y2="396.5" class="w"/>
<polyline points="560.8,401.8 564.4,407.3 568,401.8" class="ps"/>
<line x1="564.4" y1="407.3" x2="564.4" y2="396.5" class="ps"/>
<text x="563" y="417.65" text-anchor="middle" class="rf" textLength="19.4" lengthAdjust="spacingAndGlyphs">+15V</text>
<line x1="456.3" y1="414.8" x2="456.3" y2="425.8" class="pn"/>
<text transform="translate(452.1,420.3) rotate(-90)" x="0" y="2.85" text-anchor="middle" class="pnum" textLength="9.7" lengthAdjust="spacingAndGlyphs">15</text>
<text transform="translate(456.3,411.8) rotate(-90)" x="0" y="2.85" text-anchor="start" class="pname" textLength="19.4" lengthAdjust="spacingAndGlyphs">Vdd2</text>
<line x1="467.3" y1="414.8" x2="467.3" y2="425.8" class="pn"/>
<text transform="translate(463.1,420.3) rotate(-90)" x="0" y="2.85" text-anchor="middle" class="pnum" textLength="9.7" lengthAdjust="spacingAndGlyphs">21</text>
<text transform="translate(467.3,411.8) rotate(-90)" x="0" y="2.85" text-anchor="start" class="pname" textLength="19.4" lengthAdjust="spacingAndGlyphs">Vdd1</text>
<line x1="477.9" y1="414.8" x2="477.9" y2="425.8" class="pn"/>
<text transform="translate(473.7,420.3) rotate(-90)" x="0" y="2.85" text-anchor="middle" class="pnum" textLength="9.7" lengthAdjust="spacingAndGlyphs">14</text>
<text transform="translate(477.9,411.8) rotate(-90)" x="0" y="2.85" text-anchor="start" class="pname" textLength="14.55" lengthAdjust="spacingAndGlyphs">Vdd</text>
<line x1="488.9" y1="414.8" x2="488.9" y2="425.8" class="pn"/>
<text transform="translate(484.7,420.3) rotate(-90)" x="0" y="2.85" text-anchor="middle" class="pnum" textLength="4.85" lengthAdjust="spacingAndGlyphs">9</text>
<text transform="translate(488.9,411.8) rotate(-90)" x="0" y="2.85" text-anchor="start" class="pname" textLength="14.55" lengthAdjust="spacingAndGlyphs">Vss</text>
<line x1="456.3" y1="425.8" x2="456.3" y2="432.8" class="w"/>
<line x1="467.3" y1="425.8" x2="467.3" y2="432.8" class="w"/>
<line x1="477.9" y1="425.8" x2="477.9" y2="432.8" class="w"/>
<line x1="456.3" y1="432.8" x2="477.9" y2="432.8" class="w"/>
<circle cx="456.3" cy="432.8" r="2.2" class="j"/>
<circle cx="467.3" cy="432.8" r="2.2" class="j"/>
<line x1="456.3" y1="432.8" x2="456.3" y2="443" class="w"/>
<polygon points="450.8,443 461.8,443 456.3,448.5" class="gs"/>
<line x1="488.9" y1="425.8" x2="488.9" y2="447" class="w"/>
<circle cx="488.9" cy="437.2" r="2.2" class="j"/>
<polyline points="485.3,453 488.9,458.5 492.5,453" class="ps"/>
<line x1="488.9" y1="458.5" x2="488.9" y2="447" class="ps"/>
<text x="488.9" y="470.15" text-anchor="middle" class="rf" textLength="19.4" lengthAdjust="spacingAndGlyphs">+15V</text>
<line x1="488.9" y1="437.2" x2="504.1" y2="437.2" class="ps"/>
<line x1="504.1" y1="431" x2="504.1" y2="443.4" class="cp"/>
<line x1="508.3" y1="431" x2="508.3" y2="443.4" class="cp"/>
<polyline points="508.3,437.2 521.5,437.2 521.5,453" class="ps"/>
<polygon points="516,453 527,453 521.5,458.5" class="gs"/>
<text x="505.5" y="428.65" text-anchor="middle" class="rf" textLength="19.4" lengthAdjust="spacingAndGlyphs">100n</text>
<text x="505.5" y="450.85" text-anchor="middle" class="rf" textLength="14.55" lengthAdjust="spacingAndGlyphs">C15</text>
<text x="424" y="414.85" text-anchor="start" class="rf" textLength="9.7" lengthAdjust="spacingAndGlyphs">U4</text>
<text x="483.7" y="258.65" text-anchor="middle" class="rf" textLength="45.49" lengthAdjust="spacingAndGlyphs">Intel_4040</text>
<rect x="669.3" y="226.3" width="44" height="66" class="bd"/>
<line x1="713.3" y1="238" x2="724.3" y2="238" class="pn"/>
<text x="718.8" y="236.65" text-anchor="middle" class="pnum" textLength="4.85" lengthAdjust="spacingAndGlyphs">1</text>
<text x="707.8" y="240.85" text-anchor="end" class="pname" textLength="19.4" lengthAdjust="spacingAndGlyphs">VBUS</text>
<line x1="713.3" y1="259.85" x2="724.3" y2="259.85" class="pn"/>
<text x="718.8" y="258.5" text-anchor="middle" class="pnum" textLength="4.85" lengthAdjust="spacingAndGlyphs">3</text>
<text x="707.8" y="262.7" text-anchor="end" class="pname" textLength="9.7" lengthAdjust="spacingAndGlyphs">D+</text>
<line x1="713.3" y1="270.8" x2="724.3" y2="270.8" class="pn"/>
<text x="718.8" y="269.45" text-anchor="middle" class="pnum" textLength="4.85" lengthAdjust="spacingAndGlyphs">2</text>
<text x="707.8" y="273.65" text-anchor="end" class="pname" textLength="11.64" lengthAdjust="spacingAndGlyphs">D-</text>
<line x1="713.3" y1="281.7" x2="724.3" y2="281.7" class="pn"/>
<text x="718.8" y="280.35" text-anchor="middle" class="pnum" textLength="4.85" lengthAdjust="spacingAndGlyphs">4</text>
<text x="707.8" y="284.55" text-anchor="end" class="pname" textLength="9.7" lengthAdjust="spacingAndGlyphs">ID</text>
<polygon points="724.3,259.85 728.9,255.15 763.4,255.15 763.4,264.55 728.9,264.55" class="gl"/>
<text x="730.6" y="262.7" text-anchor="start" class="lt" textLength="29.1" lengthAdjust="spacingAndGlyphs">USB_D+</text>
<polygon points="724.3,270.8 728.9,266.1 765.34,266.1 765.34,275.5 728.9,275.5" class="gl"/>
<text x="730.6" y="273.65" text-anchor="start" class="lt" textLength="31.04" lengthAdjust="spacingAndGlyphs">USB_D-</text>
<line x1="721.3" y1="278.7" x2="727.3" y2="284.7" class="nc"/>
<line x1="721.3" y1="284.7" x2="727.3" y2="278.7" class="nc"/>
<line x1="713.3" y1="238" x2="767" y2="238" class="mix1"/>
<line x1="767" y1="238" x2="813" y2="238" class="mix2"/>
<g transform="translate(751.8,237.9) rotate(-60)"><rect x="-10.5" y="-4.6" width="21" height="9.2" class="rb" style="stroke-width:0.9"/></g>
<circle cx="790" cy="238" r="2.2" class="j"/>
<polyline points="813.3,234.4 818.8,238 813.3,241.6" class="ps"/>
<line x1="818.8" y1="238" x2="813" y2="238" class="ps"/>
<text x="823.3" y="240.85" text-anchor="start" class="rf" textLength="14.55" lengthAdjust="spacingAndGlyphs">+5V</text>
<line x1="790" y1="238" x2="790" y2="246" class="ps"/>
<line x1="782.6" y1="246" x2="797.4" y2="246" class="cp"/>
<line x1="782.6" y1="250.1" x2="797.4" y2="250.1" class="cp"/>
<line x1="790" y1="250.1" x2="790" y2="264.2" class="ps"/>
<polygon points="784.5,264.2 795.5,264.2 790,269.7" class="gs"/>
<text x="781.2" y="251.55" text-anchor="end" class="rf" textLength="14.55" lengthAdjust="spacingAndGlyphs">C16</text>
<text x="769.3" y="262.85" text-anchor="start" class="rf" textLength="9.7" lengthAdjust="spacingAndGlyphs">1u</text>
<text x="697.2" y="211.55" text-anchor="middle" class="rf" textLength="9.7" lengthAdjust="spacingAndGlyphs">J1</text>
<text x="697.7" y="221.25" text-anchor="middle" class="rf" textLength="51.09" lengthAdjust="spacingAndGlyphs">USB_B_Micro</text>
<text x="751.4" y="220.75" text-anchor="middle" class="rf" textLength="14.55" lengthAdjust="spacingAndGlyphs">FB1</text>
<rect x="672.5" y="235.8" width="11" height="4.4" class="usbr"/>
<circle cx="674.9" cy="250.3" r="3" fill="#840000"/>
<polyline points="677,250.5 695,250.5" class="usbl"/>
<polygon points="695,247.3 700.5,250.5 695,253.7" class="usbf"/>
<polyline points="679,250.5 683,245 687.5,245" class="usbl"/>
<circle cx="688.3" cy="244.8" r="1.8" fill="#840000"/>
<polyline points="681,250.5 685,255.8 690,255.8" class="usbl"/>
<rect x="689.3" y="253.9" width="3.8" height="3.8" class="usbf"/>
<line x1="680.3" y1="292.3" x2="680.3" y2="303.3" class="pn"/>
<text transform="translate(676.1,297.8) rotate(-90)" x="0" y="2.85" text-anchor="middle" class="pnum" textLength="4.85" lengthAdjust="spacingAndGlyphs">6</text>
<text transform="translate(680.3,289.3) rotate(-90)" x="0" y="2.85" text-anchor="start" class="pname" textLength="25.03" lengthAdjust="spacingAndGlyphs">Shield</text>
<line x1="691.2" y1="292.3" x2="691.2" y2="303.3" class="pn"/>
<text transform="translate(687,297.8) rotate(-90)" x="0" y="2.85" text-anchor="middle" class="pnum" textLength="4.85" lengthAdjust="spacingAndGlyphs">5</text>
<text transform="translate(691.2,289.3) rotate(-90)" x="0" y="2.85" text-anchor="start" class="pname" textLength="14.55" lengthAdjust="spacingAndGlyphs">GND</text>
<line x1="677.3" y1="300.3" x2="683.3" y2="306.3" class="nc"/>
<line x1="677.3" y1="306.3" x2="683.3" y2="300.3" class="nc"/>
<line x1="691.2" y1="303.3" x2="691.2" y2="311.6" class="ps"/>
<polygon points="685.7,311.6 696.7,311.6 691.2,317.1" class="gs"/>
<line x1="682.3" y1="394.1" x2="702.5" y2="394.1" class="ps"/>
<circle cx="710.1" cy="394.1" r="5.0" fill="none" stroke="#840000" stroke-width="5.2"/>
<text x="722" y="391.85" text-anchor="start" class="rf" textLength="9.7" lengthAdjust="spacingAndGlyphs">H1</text>
<text x="722" y="401.55" text-anchor="start" class="rf" textLength="73.31" lengthAdjust="spacingAndGlyphs">MountingHole_Pad</text>
<line x1="682.3" y1="415.95" x2="702.5" y2="415.95" class="ps"/>
<circle cx="710.1" cy="415.95" r="5.0" fill="none" stroke="#840000" stroke-width="5.2"/>
<text x="722" y="413.7" text-anchor="start" class="rf" textLength="9.7" lengthAdjust="spacingAndGlyphs">H2</text>
<text x="722" y="423.4" text-anchor="start" class="rf" textLength="73.31" lengthAdjust="spacingAndGlyphs">MountingHole_Pad</text>
<circle cx="682.3" cy="415.95" r="2.2" class="j"/>
<line x1="682.3" y1="437.8" x2="702.5" y2="437.8" class="ps"/>
<circle cx="710.1" cy="437.8" r="5.0" fill="none" stroke="#840000" stroke-width="5.2"/>
<text x="722" y="435.55" text-anchor="start" class="rf" textLength="9.7" lengthAdjust="spacingAndGlyphs">H3</text>
<text x="722" y="445.25" text-anchor="start" class="rf" textLength="73.31" lengthAdjust="spacingAndGlyphs">MountingHole_Pad</text>
<circle cx="682.3" cy="437.8" r="2.2" class="j"/>
<line x1="682.3" y1="459.65" x2="702.5" y2="459.65" class="ps"/>
<circle cx="710.1" cy="459.65" r="5.0" fill="none" stroke="#840000" stroke-width="5.2"/>
<text x="722" y="457.4" text-anchor="start" class="rf" textLength="9.7" lengthAdjust="spacingAndGlyphs">H4</text>
<text x="722" y="467.1" text-anchor="start" class="rf" textLength="73.31" lengthAdjust="spacingAndGlyphs">MountingHole_Pad</text>
<circle cx="682.3" cy="459.65" r="2.2" class="j"/>
<line x1="682.3" y1="394.1" x2="682.3" y2="475.7" class="w"/>
<polygon points="676.8,475.7 687.8,475.7 682.3,481.2" class="gs"/>
<rect x="974.2" y="179.7" width="60" height="98.4" class="bd"/>
<line x1="963.5" y1="185.2" x2="974.2" y2="185.2" class="pn"/>
<text x="968.85" y="183.85" text-anchor="middle" class="pnum" textLength="4.85" lengthAdjust="spacingAndGlyphs">6</text>
<text x="979" y="188.05" text-anchor="start" class="pname" textLength="21.34" lengthAdjust="spacingAndGlyphs">1IN-</text>
<line x1="963.5" y1="196.13" x2="974.2" y2="196.13" class="pn"/>
<text x="968.85" y="194.78" text-anchor="middle" class="pnum" textLength="4.85" lengthAdjust="spacingAndGlyphs">7</text>
<text x="979" y="198.98" text-anchor="start" class="pname" textLength="19.4" lengthAdjust="spacingAndGlyphs">1IN+</text>
<line x1="963.5" y1="207.06" x2="974.2" y2="207.06" class="pn"/>
<text x="968.85" y="205.71" text-anchor="middle" class="pnum" textLength="4.85" lengthAdjust="spacingAndGlyphs">4</text>
<text x="979" y="209.91" text-anchor="start" class="pname" textLength="21.34" lengthAdjust="spacingAndGlyphs">2IN-</text>
<line x1="963.5" y1="217.99" x2="974.2" y2="217.99" class="pn"/>
<text x="968.85" y="216.64" text-anchor="middle" class="pnum" textLength="4.85" lengthAdjust="spacingAndGlyphs">5</text>
<text x="979" y="220.84" text-anchor="start" class="pname" textLength="19.4" lengthAdjust="spacingAndGlyphs">2IN+</text>
<line x1="963.5" y1="228.92" x2="974.2" y2="228.92" class="pn"/>
<text x="968.85" y="227.57" text-anchor="middle" class="pnum" textLength="4.85" lengthAdjust="spacingAndGlyphs">8</text>
<text x="979" y="231.77" text-anchor="start" class="pname" textLength="21.34" lengthAdjust="spacingAndGlyphs">3IN-</text>
<line x1="963.5" y1="239.85" x2="974.2" y2="239.85" class="pn"/>
<text x="968.85" y="238.5" text-anchor="middle" class="pnum" textLength="4.85" lengthAdjust="spacingAndGlyphs">9</text>
<text x="979" y="242.7" text-anchor="start" class="pname" textLength="19.4" lengthAdjust="spacingAndGlyphs">3IN+</text>
<line x1="963.5" y1="250.78" x2="974.2" y2="250.78" class="pn"/>
<text x="968.85" y="249.43" text-anchor="middle" class="pnum" textLength="9.7" lengthAdjust="spacingAndGlyphs">10</text>
<text x="979" y="253.63" text-anchor="start" class="pname" textLength="21.34" lengthAdjust="spacingAndGlyphs">4IN-</text>
<line x1="963.5" y1="261.71" x2="974.2" y2="261.71" class="pn"/>
<text x="968.85" y="260.36" text-anchor="middle" class="pnum" textLength="9.7" lengthAdjust="spacingAndGlyphs">11</text>
<text x="979" y="264.56" text-anchor="start" class="pname" textLength="19.4" lengthAdjust="spacingAndGlyphs">4IN+</text>
<line x1="1034.2" y1="185.2" x2="1045.1" y2="185.2" class="pn"/>
<text x="1039.65" y="183.85" text-anchor="middle" class="pnum" textLength="4.85" lengthAdjust="spacingAndGlyphs">1</text>
<text x="1031.2" y="188.05" text-anchor="end" class="pname" textLength="19.4" lengthAdjust="spacingAndGlyphs">1OUT</text>
<line x1="1034.2" y1="207.06" x2="1045.1" y2="207.06" class="pn"/>
<text x="1039.65" y="205.71" text-anchor="middle" class="pnum" textLength="4.85" lengthAdjust="spacingAndGlyphs">2</text>
<text x="1031.2" y="209.91" text-anchor="end" class="pname" textLength="19.4" lengthAdjust="spacingAndGlyphs">2OUT</text>
<line x1="1034.2" y1="228.92" x2="1045.1" y2="228.92" class="pn"/>
<text x="1039.65" y="227.57" text-anchor="middle" class="pnum" textLength="9.7" lengthAdjust="spacingAndGlyphs">14</text>
<text x="1031.2" y="231.77" text-anchor="end" class="pname" textLength="19.4" lengthAdjust="spacingAndGlyphs">3OUT</text>
<line x1="1034.2" y1="250.78" x2="1045.1" y2="250.78" class="pn"/>
<text x="1039.65" y="249.43" text-anchor="middle" class="pnum" textLength="9.7" lengthAdjust="spacingAndGlyphs">13</text>
<text x="1031.2" y="253.63" text-anchor="end" class="pname" textLength="19.4" lengthAdjust="spacingAndGlyphs">4OUT</text>
<line x1="1007.3" y1="278.1" x2="1007.3" y2="289.1" class="pn"/>
<text transform="translate(1003.1,283.6) rotate(-90)" x="0" y="2.85" text-anchor="middle" class="pnum" textLength="4.85" lengthAdjust="spacingAndGlyphs">3</text>
<text transform="translate(1007.3,275.1) rotate(-90)" x="0" y="2.85" text-anchor="start" class="pname" textLength="14.55" lengthAdjust="spacingAndGlyphs">Vcc</text>
<line x1="1028.3" y1="278.1" x2="1028.3" y2="289.1" class="pn"/>
<text transform="translate(1024.1,283.6) rotate(-90)" x="0" y="2.85" text-anchor="middle" class="pnum" textLength="9.7" lengthAdjust="spacingAndGlyphs">12</text>
<text transform="translate(1028.3,275.1) rotate(-90)" x="0" y="2.85" text-anchor="start" class="pname" textLength="14.55" lengthAdjust="spacingAndGlyphs">GND</text>
<line x1="1007.3" y1="289.1" x2="1007.3" y2="305.7" class="w"/>
<polyline points="1003.7,304.6 1007.3,310.1 1010.9,304.6" class="ps"/>
<line x1="1007.3" y1="310.1" x2="1007.3" y2="305.7" class="ps"/>
<text x="1005.7" y="322.05" text-anchor="middle" class="rf" textLength="19.4" lengthAdjust="spacingAndGlyphs">+15V</text>
<line x1="1028.3" y1="289.1" x2="1028.3" y2="304.6" class="w"/>
<polygon points="1022.8,304.6 1033.8,304.6 1028.3,310.1" class="gs"/>
<text x="1004.2" y="174.05" text-anchor="middle" class="rf" textLength="44.4" lengthAdjust="spacingAndGlyphs">LM339_DIP</text>
<text x="973.8" y="286.85" text-anchor="start" class="rf" textLength="9.7" lengthAdjust="spacingAndGlyphs">U6</text>
<polyline points="880.6,169.6 884.2,164.1 887.8,169.6" class="ps"/>
<line x1="884.2" y1="164.1" x2="884.2" y2="174.7" class="ps"/>
<text x="886" y="159.05" text-anchor="middle" class="rf" textLength="24.25" lengthAdjust="spacingAndGlyphs">+11V7</text>
<line x1="884.2" y1="174.7" x2="884.2" y2="261.71" class="w"/>
<polygon points="898.65,180.5 958.9,180.5 963.5,185.2 958.9,189.9 898.65,189.9" class="gl"/>
<text x="900.85" y="188.05" text-anchor="start" class="lt" textLength="54.85" lengthAdjust="spacingAndGlyphs">4040_CMRAM3</text>
<line x1="884.2" y1="196.13" x2="963.5" y2="196.13" class="w"/>
<circle cx="884.2" cy="196.13" r="2.2" class="j"/>
<polygon points="898.65,202.36 958.9,202.36 963.5,207.06 958.9,211.76 898.65,211.76" class="gl"/>
<text x="900.85" y="209.91" text-anchor="start" class="lt" textLength="54.85" lengthAdjust="spacingAndGlyphs">4040_CMRAM2</text>
<line x1="884.2" y1="217.99" x2="963.5" y2="217.99" class="w"/>
<circle cx="884.2" cy="217.99" r="2.2" class="j"/>
<line x1="960.5" y1="225.92" x2="966.5" y2="231.92" class="nc"/>
<line x1="960.5" y1="231.92" x2="966.5" y2="225.92" class="nc"/>
<line x1="960.5" y1="236.85" x2="966.5" y2="242.85" class="nc"/>
<line x1="960.5" y1="242.85" x2="966.5" y2="236.85" class="nc"/>
<polygon points="909.85,246.08 958.9,246.08 963.5,250.78 958.9,255.48 909.85,255.48" class="gl"/>
<text x="912.05" y="253.63" text-anchor="start" class="lt" textLength="43.65" lengthAdjust="spacingAndGlyphs">4040_SYNC</text>
<line x1="884.2" y1="261.71" x2="963.5" y2="261.71" class="w"/>
<line x1="1045.1" y1="185.2" x2="1100.8" y2="185.2" class="w"/>
<circle cx="1050.6" cy="185.2" r="2.2" class="j"/>
<polygon points="1100.8,185.2 1105.4,180.5 1176.11,180.5 1176.11,189.9 1105.4,189.9" class="gl"/>
<text x="1107.1" y="188.05" text-anchor="start" class="lt" textLength="65.31" lengthAdjust="spacingAndGlyphs">STM_IN_CMRAM3</text>
<polyline points="1050.6,185.2 1050.6,196.13 1075.4,196.13" class="w"/>
<rect x="1075.4" y="192.63" width="15.9" height="7" class="rb"/>
<line x1="1091.3" y1="196.13" x2="1099.3" y2="196.13" class="ps"/>
<polyline points="1099.3,192.53 1104.8,196.13 1099.3,199.73" class="ps"/>
<line x1="1104.8" y1="196.13" x2="1099.3" y2="196.13" class="ps"/>
<text x="1109.3" y="198.98" text-anchor="start" class="rf" textLength="22.21" lengthAdjust="spacingAndGlyphs">+3.3V</text>
<text x="1059.3" y="192.98" text-anchor="start" class="rf" textLength="14.55" lengthAdjust="spacingAndGlyphs">R15</text>
<text x="1067" y="205.28" text-anchor="middle" class="rf" textLength="9.7" lengthAdjust="spacingAndGlyphs">1k</text>
<line x1="1045.1" y1="207.06" x2="1100.8" y2="207.06" class="w"/>
<circle cx="1050.6" cy="207.06" r="2.2" class="j"/>
<polygon points="1100.8,207.06 1105.4,202.36 1176.11,202.36 1176.11,211.76 1105.4,211.76" class="gl"/>
<text x="1107.1" y="209.91" text-anchor="start" class="lt" textLength="65.31" lengthAdjust="spacingAndGlyphs">STM_IN_CMRAM2</text>
<polyline points="1050.6,207.06 1050.6,217.99 1075.4,217.99" class="w"/>
<rect x="1075.4" y="214.49" width="15.9" height="7" class="rb"/>
<line x1="1091.3" y1="217.99" x2="1099.3" y2="217.99" class="ps"/>
<polyline points="1099.3,214.39 1104.8,217.99 1099.3,221.59" class="ps"/>
<line x1="1104.8" y1="217.99" x2="1099.3" y2="217.99" class="ps"/>
<text x="1109.3" y="220.84" text-anchor="start" class="rf" textLength="22.21" lengthAdjust="spacingAndGlyphs">+3.3V</text>
<text x="1059.3" y="214.84" text-anchor="start" class="rf" textLength="14.55" lengthAdjust="spacingAndGlyphs">R14</text>
<text x="1067" y="227.14" text-anchor="middle" class="rf" textLength="9.7" lengthAdjust="spacingAndGlyphs">1k</text>
<line x1="1042.1" y1="225.92" x2="1048.1" y2="231.92" class="nc"/>
<line x1="1042.1" y1="231.92" x2="1048.1" y2="225.92" class="nc"/>
<line x1="1045.1" y1="250.78" x2="1100.8" y2="250.78" class="w"/>
<circle cx="1050.6" cy="250.78" r="2.2" class="j"/>
<polygon points="1100.8,250.78 1105.4,246.08 1164.9,246.08 1164.9,255.48 1105.4,255.48" class="gl"/>
<text x="1107.1" y="253.63" text-anchor="start" class="lt" textLength="54.1" lengthAdjust="spacingAndGlyphs">STM_IN_SYNC</text>
<polyline points="1050.6,250.78 1050.6,261.71 1075.4,261.71" class="w"/>
<rect x="1075.4" y="258.21" width="15.9" height="7" class="rb"/>
<line x1="1091.3" y1="261.71" x2="1099.3" y2="261.71" class="ps"/>
<polyline points="1099.3,258.11 1104.8,261.71 1099.3,265.31" class="ps"/>
<line x1="1104.8" y1="261.71" x2="1099.3" y2="261.71" class="ps"/>
<text x="1109.3" y="264.56" text-anchor="start" class="rf" textLength="22.21" lengthAdjust="spacingAndGlyphs">+3.3V</text>
<text x="1059.3" y="258.56" text-anchor="start" class="rf" textLength="14.55" lengthAdjust="spacingAndGlyphs">R16</text>
<text x="1067" y="270.86" text-anchor="middle" class="rf" textLength="9.7" lengthAdjust="spacingAndGlyphs">1k</text>
<circle cx="963.5" cy="196.13" r="2.2" class="j"/>
<rect x="974.2" y="345.6" width="60" height="98.4" class="bd"/>
<line x1="963.5" y1="351.1" x2="974.2" y2="351.1" class="pn"/>
<text x="968.85" y="349.75" text-anchor="middle" class="pnum" textLength="4.85" lengthAdjust="spacingAndGlyphs">6</text>
<text x="979" y="353.95" text-anchor="start" class="pname" textLength="21.34" lengthAdjust="spacingAndGlyphs">1IN-</text>
<line x1="963.5" y1="362.03" x2="974.2" y2="362.03" class="pn"/>
<text x="968.85" y="360.68" text-anchor="middle" class="pnum" textLength="4.85" lengthAdjust="spacingAndGlyphs">7</text>
<text x="979" y="364.88" text-anchor="start" class="pname" textLength="19.4" lengthAdjust="spacingAndGlyphs">1IN+</text>
<line x1="963.5" y1="372.96" x2="974.2" y2="372.96" class="pn"/>
<text x="968.85" y="371.61" text-anchor="middle" class="pnum" textLength="4.85" lengthAdjust="spacingAndGlyphs">4</text>
<text x="979" y="375.81" text-anchor="start" class="pname" textLength="21.34" lengthAdjust="spacingAndGlyphs">2IN-</text>
<line x1="963.5" y1="383.89" x2="974.2" y2="383.89" class="pn"/>
<text x="968.85" y="382.54" text-anchor="middle" class="pnum" textLength="4.85" lengthAdjust="spacingAndGlyphs">5</text>
<text x="979" y="386.74" text-anchor="start" class="pname" textLength="19.4" lengthAdjust="spacingAndGlyphs">2IN+</text>
<line x1="963.5" y1="394.82" x2="974.2" y2="394.82" class="pn"/>
<text x="968.85" y="393.47" text-anchor="middle" class="pnum" textLength="4.85" lengthAdjust="spacingAndGlyphs">8</text>
<text x="979" y="397.67" text-anchor="start" class="pname" textLength="21.34" lengthAdjust="spacingAndGlyphs">3IN-</text>
<line x1="963.5" y1="405.75" x2="974.2" y2="405.75" class="pn"/>
<text x="968.85" y="404.4" text-anchor="middle" class="pnum" textLength="4.85" lengthAdjust="spacingAndGlyphs">9</text>
<text x="979" y="408.6" text-anchor="start" class="pname" textLength="19.4" lengthAdjust="spacingAndGlyphs">3IN+</text>
<line x1="963.5" y1="416.68" x2="974.2" y2="416.68" class="pn"/>
<text x="968.85" y="415.33" text-anchor="middle" class="pnum" textLength="9.7" lengthAdjust="spacingAndGlyphs">10</text>
<text x="979" y="419.53" text-anchor="start" class="pname" textLength="21.34" lengthAdjust="spacingAndGlyphs">4IN-</text>
<line x1="963.5" y1="427.61" x2="974.2" y2="427.61" class="pn"/>
<text x="968.85" y="426.26" text-anchor="middle" class="pnum" textLength="9.7" lengthAdjust="spacingAndGlyphs">11</text>
<text x="979" y="430.46" text-anchor="start" class="pname" textLength="19.4" lengthAdjust="spacingAndGlyphs">4IN+</text>
<line x1="1034.2" y1="351.1" x2="1045.1" y2="351.1" class="pn"/>
<text x="1039.65" y="349.75" text-anchor="middle" class="pnum" textLength="4.85" lengthAdjust="spacingAndGlyphs">1</text>
<text x="1031.2" y="353.95" text-anchor="end" class="pname" textLength="19.4" lengthAdjust="spacingAndGlyphs">1OUT</text>
<line x1="1034.2" y1="372.96" x2="1045.1" y2="372.96" class="pn"/>
<text x="1039.65" y="371.61" text-anchor="middle" class="pnum" textLength="4.85" lengthAdjust="spacingAndGlyphs">2</text>
<text x="1031.2" y="375.81" text-anchor="end" class="pname" textLength="19.4" lengthAdjust="spacingAndGlyphs">2OUT</text>
<line x1="1034.2" y1="394.82" x2="1045.1" y2="394.82" class="pn"/>
<text x="1039.65" y="393.47" text-anchor="middle" class="pnum" textLength="9.7" lengthAdjust="spacingAndGlyphs">14</text>
<text x="1031.2" y="397.67" text-anchor="end" class="pname" textLength="19.4" lengthAdjust="spacingAndGlyphs">3OUT</text>
<line x1="1034.2" y1="416.68" x2="1045.1" y2="416.68" class="pn"/>
<text x="1039.65" y="415.33" text-anchor="middle" class="pnum" textLength="9.7" lengthAdjust="spacingAndGlyphs">13</text>
<text x="1031.2" y="419.53" text-anchor="end" class="pname" textLength="19.4" lengthAdjust="spacingAndGlyphs">4OUT</text>
<line x1="1007.3" y1="444" x2="1007.3" y2="455" class="pn"/>
<text transform="translate(1003.1,449.5) rotate(-90)" x="0" y="2.85" text-anchor="middle" class="pnum" textLength="4.85" lengthAdjust="spacingAndGlyphs">3</text>
<text transform="translate(1007.3,441) rotate(-90)" x="0" y="2.85" text-anchor="start" class="pname" textLength="14.55" lengthAdjust="spacingAndGlyphs">Vcc</text>
<line x1="1028.3" y1="444" x2="1028.3" y2="455" class="pn"/>
<text transform="translate(1024.1,449.5) rotate(-90)" x="0" y="2.85" text-anchor="middle" class="pnum" textLength="9.7" lengthAdjust="spacingAndGlyphs">12</text>
<text transform="translate(1028.3,441) rotate(-90)" x="0" y="2.85" text-anchor="start" class="pname" textLength="14.55" lengthAdjust="spacingAndGlyphs">GND</text>
<line x1="1007.3" y1="455" x2="1007.3" y2="471.6" class="w"/>
<polyline points="1003.7,470.5 1007.3,476 1010.9,470.5" class="ps"/>
<line x1="1007.3" y1="476" x2="1007.3" y2="471.6" class="ps"/>
<text x="1005.7" y="487.95" text-anchor="middle" class="rf" textLength="19.4" lengthAdjust="spacingAndGlyphs">+15V</text>
<line x1="1028.3" y1="455" x2="1028.3" y2="470.5" class="w"/>
<polygon points="1022.8,470.5 1033.8,470.5 1028.3,476" class="gs"/>
<text x="1004.2" y="339.95" text-anchor="middle" class="rf" textLength="44.4" lengthAdjust="spacingAndGlyphs">LM339_DIP</text>
<text x="973.8" y="452.75" text-anchor="start" class="rf" textLength="9.7" lengthAdjust="spacingAndGlyphs">U7</text>
<polyline points="880.6,335.5 884.2,330 887.8,335.5" class="ps"/>
<line x1="884.2" y1="330" x2="884.2" y2="340.6" class="ps"/>
<text x="886" y="324.95" text-anchor="middle" class="rf" textLength="24.25" lengthAdjust="spacingAndGlyphs">+11V7</text>
<line x1="884.2" y1="340.6" x2="884.2" y2="427.61" class="w"/>
<polygon points="898.65,346.4 958.9,346.4 963.5,351.1 958.9,355.8 898.65,355.8" class="gl"/>
<text x="900.85" y="353.95" text-anchor="start" class="lt" textLength="54.85" lengthAdjust="spacingAndGlyphs">4040_CMROM0</text>
<line x1="884.2" y1="362.03" x2="963.5" y2="362.03" class="w"/>
<circle cx="884.2" cy="362.03" r="2.2" class="j"/>
<polygon points="898.65,368.26 958.9,368.26 963.5,372.96 958.9,377.66 898.65,377.66" class="gl"/>
<text x="900.85" y="375.81" text-anchor="start" class="lt" textLength="54.85" lengthAdjust="spacingAndGlyphs">4040_CMROM1</text>
<line x1="884.2" y1="383.89" x2="963.5" y2="383.89" class="w"/>
<circle cx="884.2" cy="383.89" r="2.2" class="j"/>
<polygon points="898.65,390.12 958.9,390.12 963.5,394.82 958.9,399.52 898.65,399.52" class="gl"/>
<text x="900.85" y="397.67" text-anchor="start" class="lt" textLength="54.85" lengthAdjust="spacingAndGlyphs">4040_CMRAM0</text>
<line x1="884.2" y1="405.75" x2="963.5" y2="405.75" class="w"/>
<circle cx="884.2" cy="405.75" r="2.2" class="j"/>
<polygon points="898.65,411.98 958.9,411.98 963.5,416.68 958.9,421.38 898.65,421.38" class="gl"/>
<text x="900.85" y="419.53" text-anchor="start" class="lt" textLength="54.85" lengthAdjust="spacingAndGlyphs">4040_CMRAM1</text>
<line x1="884.2" y1="427.61" x2="963.5" y2="427.61" class="w"/>
<line x1="1045.1" y1="351.1" x2="1100.8" y2="351.1" class="w"/>
<circle cx="1050.6" cy="351.1" r="2.2" class="j"/>
<polygon points="1100.8,351.1 1105.4,346.4 1176.11,346.4 1176.11,355.8 1105.4,355.8" class="gl"/>
<text x="1107.1" y="353.95" text-anchor="start" class="lt" textLength="65.31" lengthAdjust="spacingAndGlyphs">STM_IN_CMROM0</text>
<polyline points="1050.6,351.1 1050.6,362.03 1075.4,362.03" class="w"/>
<rect x="1075.4" y="358.53" width="15.9" height="7" class="rb"/>
<line x1="1091.3" y1="362.03" x2="1099.3" y2="362.03" class="ps"/>
<polyline points="1099.3,358.43 1104.8,362.03 1099.3,365.63" class="ps"/>
<line x1="1104.8" y1="362.03" x2="1099.3" y2="362.03" class="ps"/>
<text x="1109.3" y="364.88" text-anchor="start" class="rf" textLength="22.21" lengthAdjust="spacingAndGlyphs">+3.3V</text>
<text x="1059.3" y="358.88" text-anchor="start" class="rf" textLength="14.55" lengthAdjust="spacingAndGlyphs">R17</text>
<text x="1067" y="371.18" text-anchor="middle" class="rf" textLength="9.7" lengthAdjust="spacingAndGlyphs">1k</text>
<line x1="1045.1" y1="372.96" x2="1100.8" y2="372.96" class="w"/>
<circle cx="1050.6" cy="372.96" r="2.2" class="j"/>
<polygon points="1100.8,372.96 1105.4,368.26 1176.11,368.26 1176.11,377.66 1105.4,377.66" class="gl"/>
<text x="1107.1" y="375.81" text-anchor="start" class="lt" textLength="65.31" lengthAdjust="spacingAndGlyphs">STM_IN_CMROM1</text>
<polyline points="1050.6,372.96 1050.6,383.89 1075.4,383.89" class="w"/>
<rect x="1075.4" y="380.39" width="15.9" height="7" class="rb"/>
<line x1="1091.3" y1="383.89" x2="1099.3" y2="383.89" class="ps"/>
<polyline points="1099.3,380.29 1104.8,383.89 1099.3,387.49" class="ps"/>
<line x1="1104.8" y1="383.89" x2="1099.3" y2="383.89" class="ps"/>
<text x="1109.3" y="386.74" text-anchor="start" class="rf" textLength="22.21" lengthAdjust="spacingAndGlyphs">+3.3V</text>
<text x="1059.3" y="380.74" text-anchor="start" class="rf" textLength="14.55" lengthAdjust="spacingAndGlyphs">R18</text>
<text x="1067" y="393.04" text-anchor="middle" class="rf" textLength="9.7" lengthAdjust="spacingAndGlyphs">1k</text>
<line x1="1045.1" y1="394.82" x2="1100.8" y2="394.82" class="w"/>
<circle cx="1050.6" cy="394.82" r="2.2" class="j"/>
<polygon points="1100.8,394.82 1105.4,390.12 1176.11,390.12 1176.11,399.52 1105.4,399.52" class="gl"/>
<text x="1107.1" y="397.67" text-anchor="start" class="lt" textLength="65.31" lengthAdjust="spacingAndGlyphs">STM_IN_CMRAM0</text>
<polyline points="1050.6,394.82 1050.6,405.75 1075.4,405.75" class="w"/>
<rect x="1075.4" y="402.25" width="15.9" height="7" class="rb"/>
<line x1="1091.3" y1="405.75" x2="1099.3" y2="405.75" class="ps"/>
<polyline points="1099.3,402.15 1104.8,405.75 1099.3,409.35" class="ps"/>
<line x1="1104.8" y1="405.75" x2="1099.3" y2="405.75" class="ps"/>
<text x="1109.3" y="408.6" text-anchor="start" class="rf" textLength="22.21" lengthAdjust="spacingAndGlyphs">+3.3V</text>
<text x="1059.3" y="402.6" text-anchor="start" class="rf" textLength="14.55" lengthAdjust="spacingAndGlyphs">R19</text>
<text x="1067" y="414.9" text-anchor="middle" class="rf" textLength="9.7" lengthAdjust="spacingAndGlyphs">1k</text>
<line x1="1045.1" y1="416.68" x2="1100.8" y2="416.68" class="w"/>
<circle cx="1050.6" cy="416.68" r="2.2" class="j"/>
<polygon points="1100.8,416.68 1105.4,411.98 1176.11,411.98 1176.11,421.38 1105.4,421.38" class="gl"/>
<text x="1107.1" y="419.53" text-anchor="start" class="lt" textLength="65.31" lengthAdjust="spacingAndGlyphs">STM_IN_CMRAM1</text>
<polyline points="1050.6,416.68 1050.6,427.61 1075.4,427.61" class="w"/>
<rect x="1075.4" y="424.11" width="15.9" height="7" class="rb"/>
<line x1="1091.3" y1="427.61" x2="1099.3" y2="427.61" class="ps"/>
<polyline points="1099.3,424.01 1104.8,427.61 1099.3,431.21" class="ps"/>
<line x1="1104.8" y1="427.61" x2="1099.3" y2="427.61" class="ps"/>
<text x="1109.3" y="430.46" text-anchor="start" class="rf" textLength="22.21" lengthAdjust="spacingAndGlyphs">+3.3V</text>
<text x="1059.3" y="424.46" text-anchor="start" class="rf" textLength="14.55" lengthAdjust="spacingAndGlyphs">R13</text>
<text x="1067" y="436.76" text-anchor="middle" class="rf" textLength="9.7" lengthAdjust="spacingAndGlyphs">1k</text>
<rect x="974.2" y="516.3" width="60" height="98.4" class="bd"/>
<line x1="963.5" y1="521.8" x2="974.2" y2="521.8" class="pn"/>
<text x="968.85" y="520.45" text-anchor="middle" class="pnum" textLength="4.85" lengthAdjust="spacingAndGlyphs">6</text>
<text x="979" y="524.65" text-anchor="start" class="pname" textLength="21.34" lengthAdjust="spacingAndGlyphs">1IN-</text>
<line x1="963.5" y1="532.73" x2="974.2" y2="532.73" class="pn"/>
<text x="968.85" y="531.38" text-anchor="middle" class="pnum" textLength="4.85" lengthAdjust="spacingAndGlyphs">7</text>
<text x="979" y="535.58" text-anchor="start" class="pname" textLength="19.4" lengthAdjust="spacingAndGlyphs">1IN+</text>
<line x1="963.5" y1="543.66" x2="974.2" y2="543.66" class="pn"/>
<text x="968.85" y="542.31" text-anchor="middle" class="pnum" textLength="4.85" lengthAdjust="spacingAndGlyphs">4</text>
<text x="979" y="546.51" text-anchor="start" class="pname" textLength="21.34" lengthAdjust="spacingAndGlyphs">2IN-</text>
<line x1="963.5" y1="554.59" x2="974.2" y2="554.59" class="pn"/>
<text x="968.85" y="553.24" text-anchor="middle" class="pnum" textLength="4.85" lengthAdjust="spacingAndGlyphs">5</text>
<text x="979" y="557.44" text-anchor="start" class="pname" textLength="19.4" lengthAdjust="spacingAndGlyphs">2IN+</text>
<line x1="963.5" y1="565.52" x2="974.2" y2="565.52" class="pn"/>
<text x="968.85" y="564.17" text-anchor="middle" class="pnum" textLength="4.85" lengthAdjust="spacingAndGlyphs">8</text>
<text x="979" y="568.37" text-anchor="start" class="pname" textLength="21.34" lengthAdjust="spacingAndGlyphs">3IN-</text>
<line x1="963.5" y1="576.45" x2="974.2" y2="576.45" class="pn"/>
<text x="968.85" y="575.1" text-anchor="middle" class="pnum" textLength="4.85" lengthAdjust="spacingAndGlyphs">9</text>
<text x="979" y="579.3" text-anchor="start" class="pname" textLength="19.4" lengthAdjust="spacingAndGlyphs">3IN+</text>
<line x1="963.5" y1="587.38" x2="974.2" y2="587.38" class="pn"/>
<text x="968.85" y="586.03" text-anchor="middle" class="pnum" textLength="9.7" lengthAdjust="spacingAndGlyphs">10</text>
<text x="979" y="590.23" text-anchor="start" class="pname" textLength="21.34" lengthAdjust="spacingAndGlyphs">4IN-</text>
<line x1="963.5" y1="598.31" x2="974.2" y2="598.31" class="pn"/>
<text x="968.85" y="596.96" text-anchor="middle" class="pnum" textLength="9.7" lengthAdjust="spacingAndGlyphs">11</text>
<text x="979" y="601.16" text-anchor="start" class="pname" textLength="19.4" lengthAdjust="spacingAndGlyphs">4IN+</text>
<line x1="1034.2" y1="521.8" x2="1045.1" y2="521.8" class="pn"/>
<text x="1039.65" y="520.45" text-anchor="middle" class="pnum" textLength="4.85" lengthAdjust="spacingAndGlyphs">1</text>
<text x="1031.2" y="524.65" text-anchor="end" class="pname" textLength="19.4" lengthAdjust="spacingAndGlyphs">1OUT</text>
<line x1="1034.2" y1="543.66" x2="1045.1" y2="543.66" class="pn"/>
<text x="1039.65" y="542.31" text-anchor="middle" class="pnum" textLength="4.85" lengthAdjust="spacingAndGlyphs">2</text>
<text x="1031.2" y="546.51" text-anchor="end" class="pname" textLength="19.4" lengthAdjust="spacingAndGlyphs">2OUT</text>
<line x1="1034.2" y1="565.52" x2="1045.1" y2="565.52" class="pn"/>
<text x="1039.65" y="564.17" text-anchor="middle" class="pnum" textLength="9.7" lengthAdjust="spacingAndGlyphs">14</text>
<text x="1031.2" y="568.37" text-anchor="end" class="pname" textLength="19.4" lengthAdjust="spacingAndGlyphs">3OUT</text>
<line x1="1034.2" y1="587.38" x2="1045.1" y2="587.38" class="pn"/>
<text x="1039.65" y="586.03" text-anchor="middle" class="pnum" textLength="9.7" lengthAdjust="spacingAndGlyphs">13</text>
<text x="1031.2" y="590.23" text-anchor="end" class="pname" textLength="19.4" lengthAdjust="spacingAndGlyphs">4OUT</text>
<line x1="1007.3" y1="614.7" x2="1007.3" y2="625.7" class="pn"/>
<text transform="translate(1003.1,620.2) rotate(-90)" x="0" y="2.85" text-anchor="middle" class="pnum" textLength="4.85" lengthAdjust="spacingAndGlyphs">3</text>
<text transform="translate(1007.3,611.7) rotate(-90)" x="0" y="2.85" text-anchor="start" class="pname" textLength="14.55" lengthAdjust="spacingAndGlyphs">Vcc</text>
<line x1="1028.3" y1="614.7" x2="1028.3" y2="625.7" class="pn"/>
<text transform="translate(1024.1,620.2) rotate(-90)" x="0" y="2.85" text-anchor="middle" class="pnum" textLength="9.7" lengthAdjust="spacingAndGlyphs">12</text>
<text transform="translate(1028.3,611.7) rotate(-90)" x="0" y="2.85" text-anchor="start" class="pname" textLength="14.55" lengthAdjust="spacingAndGlyphs">GND</text>
<line x1="1007.3" y1="625.7" x2="1007.3" y2="642.3" class="w"/>
<polyline points="1003.7,641.2 1007.3,646.7 1010.9,641.2" class="ps"/>
<line x1="1007.3" y1="646.7" x2="1007.3" y2="642.3" class="ps"/>
<text x="1005.7" y="658.65" text-anchor="middle" class="rf" textLength="19.4" lengthAdjust="spacingAndGlyphs">+15V</text>
<line x1="1028.3" y1="625.7" x2="1028.3" y2="641.2" class="w"/>
<polygon points="1022.8,641.2 1033.8,641.2 1028.3,646.7" class="gs"/>
<text x="1004.2" y="510.65" text-anchor="middle" class="rf" textLength="44.4" lengthAdjust="spacingAndGlyphs">LM339_DIP</text>
<text x="973.8" y="623.45" text-anchor="start" class="rf" textLength="9.7" lengthAdjust="spacingAndGlyphs">U8</text>
<polyline points="880.6,506.2 884.2,500.7 887.8,506.2" class="ps"/>
<line x1="884.2" y1="500.7" x2="884.2" y2="511.3" class="ps"/>
<text x="886" y="495.65" text-anchor="middle" class="rf" textLength="24.25" lengthAdjust="spacingAndGlyphs">+11V7</text>
<line x1="884.2" y1="511.3" x2="884.2" y2="598.31" class="w"/>
<polygon points="919.55,517.1 958.9,517.1 963.5,521.8 958.9,526.5 919.55,526.5" class="gl"/>
<text x="921.75" y="524.65" text-anchor="start" class="lt" textLength="33.95" lengthAdjust="spacingAndGlyphs">4040_D0</text>
<line x1="884.2" y1="532.73" x2="963.5" y2="532.73" class="w"/>
<circle cx="884.2" cy="532.73" r="2.2" class="j"/>
<polygon points="919.55,538.96 958.9,538.96 963.5,543.66 958.9,548.36 919.55,548.36" class="gl"/>
<text x="921.75" y="546.51" text-anchor="start" class="lt" textLength="33.95" lengthAdjust="spacingAndGlyphs">4040_D1</text>
<line x1="884.2" y1="554.59" x2="963.5" y2="554.59" class="w"/>
<circle cx="884.2" cy="554.59" r="2.2" class="j"/>
<polygon points="919.55,560.82 958.9,560.82 963.5,565.52 958.9,570.22 919.55,570.22" class="gl"/>
<text x="921.75" y="568.37" text-anchor="start" class="lt" textLength="33.95" lengthAdjust="spacingAndGlyphs">4040_D2</text>
<line x1="884.2" y1="576.45" x2="963.5" y2="576.45" class="w"/>
<circle cx="884.2" cy="576.45" r="2.2" class="j"/>
<polygon points="919.55,582.68 958.9,582.68 963.5,587.38 958.9,592.08 919.55,592.08" class="gl"/>
<text x="921.75" y="590.23" text-anchor="start" class="lt" textLength="33.95" lengthAdjust="spacingAndGlyphs">4040_D3</text>
<line x1="884.2" y1="598.31" x2="963.5" y2="598.31" class="w"/>
<line x1="1045.1" y1="521.8" x2="1100.8" y2="521.8" class="w"/>
<circle cx="1050.6" cy="521.8" r="2.2" class="j"/>
<polygon points="1100.8,521.8 1105.4,517.1 1155.2,517.1 1155.2,526.5 1105.4,526.5" class="gl"/>
<text x="1107.1" y="524.65" text-anchor="start" class="lt" textLength="44.4" lengthAdjust="spacingAndGlyphs">STM_IN_D0</text>
<polyline points="1050.6,521.8 1050.6,532.73 1075.4,532.73" class="w"/>
<rect x="1075.4" y="529.23" width="15.9" height="7" class="rb"/>
<line x1="1091.3" y1="532.73" x2="1099.3" y2="532.73" class="ps"/>
<polyline points="1099.3,529.13 1104.8,532.73 1099.3,536.33" class="ps"/>
<line x1="1104.8" y1="532.73" x2="1099.3" y2="532.73" class="ps"/>
<text x="1109.3" y="535.58" text-anchor="start" class="rf" textLength="22.21" lengthAdjust="spacingAndGlyphs">+3.3V</text>
<text x="1059.3" y="529.58" text-anchor="start" class="rf" textLength="14.55" lengthAdjust="spacingAndGlyphs">R20</text>
<text x="1067" y="541.88" text-anchor="middle" class="rf" textLength="9.7" lengthAdjust="spacingAndGlyphs">1k</text>
<line x1="1045.1" y1="543.66" x2="1100.8" y2="543.66" class="w"/>
<circle cx="1050.6" cy="543.66" r="2.2" class="j"/>
<polygon points="1100.8,543.66 1105.4,538.96 1155.2,538.96 1155.2,548.36 1105.4,548.36" class="gl"/>
<text x="1107.1" y="546.51" text-anchor="start" class="lt" textLength="44.4" lengthAdjust="spacingAndGlyphs">STM_IN_D1</text>
<polyline points="1050.6,543.66 1050.6,554.59 1075.4,554.59" class="w"/>
<rect x="1075.4" y="551.09" width="15.9" height="7" class="rb"/>
<line x1="1091.3" y1="554.59" x2="1099.3" y2="554.59" class="ps"/>
<polyline points="1099.3,550.99 1104.8,554.59 1099.3,558.19" class="ps"/>
<line x1="1104.8" y1="554.59" x2="1099.3" y2="554.59" class="ps"/>
<text x="1109.3" y="557.44" text-anchor="start" class="rf" textLength="22.21" lengthAdjust="spacingAndGlyphs">+3.3V</text>
<text x="1059.3" y="551.44" text-anchor="start" class="rf" textLength="14.55" lengthAdjust="spacingAndGlyphs">R21</text>
<text x="1067" y="563.74" text-anchor="middle" class="rf" textLength="9.7" lengthAdjust="spacingAndGlyphs">1k</text>
<line x1="1045.1" y1="565.52" x2="1100.8" y2="565.52" class="w"/>
<circle cx="1050.6" cy="565.52" r="2.2" class="j"/>
<polygon points="1100.8,565.52 1105.4,560.82 1155.2,560.82 1155.2,570.22 1105.4,570.22" class="gl"/>
<text x="1107.1" y="568.37" text-anchor="start" class="lt" textLength="44.4" lengthAdjust="spacingAndGlyphs">STM_IN_D2</text>
<polyline points="1050.6,565.52 1050.6,576.45 1075.4,576.45" class="w"/>
<rect x="1075.4" y="572.95" width="15.9" height="7" class="rb"/>
<line x1="1091.3" y1="576.45" x2="1099.3" y2="576.45" class="ps"/>
<polyline points="1099.3,572.85 1104.8,576.45 1099.3,580.05" class="ps"/>
<line x1="1104.8" y1="576.45" x2="1099.3" y2="576.45" class="ps"/>
<text x="1109.3" y="579.3" text-anchor="start" class="rf" textLength="22.21" lengthAdjust="spacingAndGlyphs">+3.3V</text>
<text x="1059.3" y="573.3" text-anchor="start" class="rf" textLength="14.55" lengthAdjust="spacingAndGlyphs">R22</text>
<text x="1067" y="585.6" text-anchor="middle" class="rf" textLength="9.7" lengthAdjust="spacingAndGlyphs">1k</text>
<line x1="1045.1" y1="587.38" x2="1100.8" y2="587.38" class="w"/>
<circle cx="1050.6" cy="587.38" r="2.2" class="j"/>
<polygon points="1100.8,587.38 1105.4,582.68 1155.2,582.68 1155.2,592.08 1105.4,592.08" class="gl"/>
<text x="1107.1" y="590.23" text-anchor="start" class="lt" textLength="44.4" lengthAdjust="spacingAndGlyphs">STM_IN_D3</text>
<polyline points="1050.6,587.38 1050.6,598.31 1075.4,598.31" class="w"/>
<rect x="1075.4" y="594.81" width="15.9" height="7" class="rb"/>
<line x1="1091.3" y1="598.31" x2="1099.3" y2="598.31" class="ps"/>
<polyline points="1099.3,594.71 1104.8,598.31 1099.3,601.91" class="ps"/>
<line x1="1104.8" y1="598.31" x2="1099.3" y2="598.31" class="ps"/>
<text x="1109.3" y="601.16" text-anchor="start" class="rf" textLength="22.21" lengthAdjust="spacingAndGlyphs">+3.3V</text>
<text x="1059.3" y="595.16" text-anchor="start" class="rf" textLength="14.55" lengthAdjust="spacingAndGlyphs">R23</text>
<text x="1067" y="607.46" text-anchor="middle" class="rf" textLength="9.7" lengthAdjust="spacingAndGlyphs">1k</text>
<rect x="103.8" y="662" width="65.8" height="103.1" class="bd"/>
<line x1="92.7" y1="678.9" x2="103.8" y2="678.9" class="pn"/>
<text x="98.25" y="677.55" text-anchor="middle" class="pnum" textLength="4.85" lengthAdjust="spacingAndGlyphs">3</text>
<text x="106.8" y="681.75" text-anchor="start" class="pname" textLength="4.85" lengthAdjust="spacingAndGlyphs">A</text>
<line x1="92.7" y1="689.72" x2="103.8" y2="689.72" class="pn"/>
<text x="98.25" y="688.37" text-anchor="middle" class="pnum" textLength="4.85" lengthAdjust="spacingAndGlyphs">6</text>
<text x="106.8" y="692.57" text-anchor="start" class="pname" textLength="4.85" lengthAdjust="spacingAndGlyphs">B</text>
<line x1="92.7" y1="700.54" x2="103.8" y2="700.54" class="pn"/>
<text x="98.25" y="699.19" text-anchor="middle" class="pnum" textLength="9.7" lengthAdjust="spacingAndGlyphs">10</text>
<text x="106.8" y="703.39" text-anchor="start" class="pname" textLength="4.85" lengthAdjust="spacingAndGlyphs">C</text>
<line x1="92.7" y1="711.36" x2="103.8" y2="711.36" class="pn"/>
<text x="98.25" y="710.01" text-anchor="middle" class="pnum" textLength="9.7" lengthAdjust="spacingAndGlyphs">14</text>
<text x="106.8" y="714.21" text-anchor="start" class="pname" textLength="4.85" lengthAdjust="spacingAndGlyphs">D</text>
<line x1="92.7" y1="722.18" x2="103.8" y2="722.18" class="pn"/>
<text x="98.25" y="720.83" text-anchor="middle" class="pnum" textLength="4.85" lengthAdjust="spacingAndGlyphs">2</text>
<text x="106.8" y="725.03" text-anchor="start" class="pname" textLength="36.76" lengthAdjust="spacingAndGlyphs">Enable_A</text>
<line x1="92.7" y1="733" x2="103.8" y2="733" class="pn"/>
<text x="98.25" y="731.65" text-anchor="middle" class="pnum" textLength="4.85" lengthAdjust="spacingAndGlyphs">7</text>
<text x="106.8" y="735.85" text-anchor="start" class="pname" textLength="36.76" lengthAdjust="spacingAndGlyphs">Enable_B</text>
<line x1="92.7" y1="743.82" x2="103.8" y2="743.82" class="pn"/>
<text x="98.25" y="742.47" text-anchor="middle" class="pnum" textLength="4.85" lengthAdjust="spacingAndGlyphs">9</text>
<text x="106.8" y="746.67" text-anchor="start" class="pname" textLength="36.76" lengthAdjust="spacingAndGlyphs">Enable_C</text>
<line x1="92.7" y1="754.64" x2="103.8" y2="754.64" class="pn"/>
<text x="98.25" y="753.29" text-anchor="middle" class="pnum" textLength="9.7" lengthAdjust="spacingAndGlyphs">15</text>
<text x="106.8" y="757.49" text-anchor="start" class="pname" textLength="36.76" lengthAdjust="spacingAndGlyphs">Enable_D</text>
<line x1="169.6" y1="678.9" x2="180.8" y2="678.9" class="pn"/>
<text x="175.2" y="677.55" text-anchor="middle" class="pnum" textLength="4.85" lengthAdjust="spacingAndGlyphs">4</text>
<text x="166.6" y="681.75" text-anchor="end" class="pname" textLength="4.85" lengthAdjust="spacingAndGlyphs">E</text>
<line x1="169.6" y1="700.54" x2="180.8" y2="700.54" class="pn"/>
<text x="175.2" y="699.19" text-anchor="middle" class="pnum" textLength="4.85" lengthAdjust="spacingAndGlyphs">5</text>
<text x="166.6" y="703.39" text-anchor="end" class="pname" textLength="4.85" lengthAdjust="spacingAndGlyphs">F</text>
<line x1="169.6" y1="722.18" x2="180.8" y2="722.18" class="pn"/>
<text x="175.2" y="720.83" text-anchor="middle" class="pnum" textLength="9.7" lengthAdjust="spacingAndGlyphs">11</text>
<text x="166.6" y="725.03" text-anchor="end" class="pname" textLength="4.85" lengthAdjust="spacingAndGlyphs">G</text>
<line x1="169.6" y1="743.82" x2="180.8" y2="743.82" class="pn"/>
<text x="175.2" y="742.47" text-anchor="middle" class="pnum" textLength="9.7" lengthAdjust="spacingAndGlyphs">13</text>
<text x="166.6" y="746.67" text-anchor="end" class="pname" textLength="4.85" lengthAdjust="spacingAndGlyphs">H</text>
<line x1="120.2" y1="651" x2="120.2" y2="662" class="pn"/>
<text transform="translate(116,656.5) rotate(-90)" x="0" y="2.85" text-anchor="middle" class="pnum" textLength="9.7" lengthAdjust="spacingAndGlyphs">16</text>
<text transform="translate(120.2,665) rotate(-90)" x="0" y="2.85" text-anchor="end" class="pname" textLength="14.55" lengthAdjust="spacingAndGlyphs">Vdd</text>
<line x1="153.3" y1="651" x2="153.3" y2="662" class="pn"/>
<text transform="translate(149.1,656.5) rotate(-90)" x="0" y="2.85" text-anchor="middle" class="pnum" textLength="4.85" lengthAdjust="spacingAndGlyphs">1</text>
<text transform="translate(153.3,665) rotate(-90)" x="0" y="2.85" text-anchor="end" class="pname" textLength="14.55" lengthAdjust="spacingAndGlyphs">Vcc</text>
<line x1="153.3" y1="765.1" x2="153.3" y2="776.1" class="pn"/>
<text transform="translate(149.1,770.6) rotate(-90)" x="0" y="2.85" text-anchor="middle" class="pnum" textLength="4.85" lengthAdjust="spacingAndGlyphs">8</text>
<text transform="translate(153.3,762.1) rotate(-90)" x="0" y="2.85" text-anchor="start" class="pname" textLength="14.55" lengthAdjust="spacingAndGlyphs">Vss</text>
<line x1="153.3" y1="776.1" x2="153.3" y2="787.7" class="ps"/>
<polygon points="147.8,787.7 158.8,787.7 153.3,793.2" class="gs"/>
<text x="99.9" y="774.45" text-anchor="start" class="rf" textLength="38.8" lengthAdjust="spacingAndGlyphs">CD40109B</text>
<text x="158.3" y="774.45" text-anchor="start" class="rf" textLength="9.7" lengthAdjust="spacingAndGlyphs">U1</text>
<line x1="120.2" y1="651" x2="120.2" y2="613" class="w"/>
<circle cx="120.2" cy="623.8" r="2.2" class="j"/>
<polyline points="116.6,608.1 120.2,602.6 123.8,608.1" class="ps"/>
<line x1="120.2" y1="602.6" x2="120.2" y2="613" class="ps"/>
<text x="122.2" y="596.45" text-anchor="middle" class="rf" textLength="19.4" lengthAdjust="spacingAndGlyphs">+15V</text>
<line x1="153.3" y1="651" x2="153.3" y2="613" class="w"/>
<circle cx="153.3" cy="623.8" r="2.2" class="j"/>
<polyline points="149.7,608.1 153.3,602.6 156.9,608.1" class="ps"/>
<line x1="153.3" y1="602.6" x2="153.3" y2="613" class="ps"/>
<text x="155.3" y="596.45" text-anchor="middle" class="rf" textLength="22.21" lengthAdjust="spacingAndGlyphs">+3.3V</text>
<line x1="120.2" y1="623.8" x2="110.4" y2="623.8" class="ps"/>
<line x1="101.85" y1="616.7" x2="101.85" y2="630.9" class="cp"/>
<line x1="106.85" y1="616.7" x2="106.85" y2="630.9" class="cp"/>
<line x1="106.9" y1="623.8" x2="120.2" y2="623.8" class="ps"/>
<polyline points="101.8,623.8 87.7,623.8 87.7,639.3" class="ps"/>
<polygon points="82.2,639.3 93.2,639.3 87.7,644.8" class="gs"/>
<text x="104.35" y="615.35" text-anchor="middle" class="rf" textLength="19.4" lengthAdjust="spacingAndGlyphs">100n</text>
<text x="104.35" y="637.95" text-anchor="middle" class="rf" textLength="9.7" lengthAdjust="spacingAndGlyphs">C4</text>
<line x1="166.8" y1="616.7" x2="166.8" y2="630.9" class="cp"/>
<line x1="171.6" y1="616.7" x2="171.6" y2="630.9" class="cp"/>
<line x1="153.3" y1="623.8" x2="166.8" y2="623.8" class="ps"/>
<polyline points="171.6,623.8 180.4,623.8 180.4,639.3" class="ps"/>
<polygon points="174.9,639.3 185.9,639.3 180.4,644.8" class="gs"/>
<text x="169.2" y="615.35" text-anchor="middle" class="rf" textLength="19.4" lengthAdjust="spacingAndGlyphs">100n</text>
<text x="169.2" y="637.95" text-anchor="middle" class="rf" textLength="9.7" lengthAdjust="spacingAndGlyphs">C7</text>
<polygon points="28.6,674.2 88.1,674.2 92.7,678.9 88.1,683.6 28.6,683.6" class="gl"/>
<text x="30.8" y="681.75" text-anchor="start" class="lt" textLength="54.1" lengthAdjust="spacingAndGlyphs">STM_OUT_PH2</text>
<polygon points="28.6,685.02 88.1,685.02 92.7,689.72 88.1,694.42 28.6,694.42" class="gl"/>
<text x="30.8" y="692.57" text-anchor="start" class="lt" textLength="54.1" lengthAdjust="spacingAndGlyphs">STM_OUT_PH1</text>
<polygon points="18.9,695.84 88.1,695.84 92.7,700.54 88.1,705.24 18.9,705.24" class="gl"/>
<text x="21.1" y="703.39" text-anchor="start" class="lt" textLength="63.8" lengthAdjust="spacingAndGlyphs">STM_OUT_RESET</text>
<line x1="89.7" y1="708.36" x2="95.7" y2="714.36" class="nc"/>
<line x1="89.7" y1="714.36" x2="95.7" y2="708.36" class="nc"/>
<line x1="89.7" y1="751.64" x2="95.7" y2="757.64" class="nc"/>
<line x1="89.7" y1="757.64" x2="95.7" y2="751.64" class="nc"/>
<polyline points="92.7,722.18 82,722.18 82,787" class="w"/>
<line x1="82" y1="733" x2="92.7" y2="733" class="w"/>
<line x1="82" y1="743.82" x2="92.7" y2="743.82" class="w"/>
<circle cx="82" cy="733" r="2.2" class="j"/>
<circle cx="82" cy="743.82" r="2.2" class="j"/>
<polyline points="78.4,787 82,792.5 85.6,787" class="ps"/>
<line x1="82" y1="792.5" x2="82" y2="787" class="ps"/>
<text x="81.4" y="803.85" text-anchor="middle" class="rf" textLength="22.21" lengthAdjust="spacingAndGlyphs">+3.3V</text>
<polygon points="180.8,678.9 185.4,674.2 234.45,674.2 234.45,683.6 185.4,683.6" class="gl"/>
<text x="187.1" y="681.75" text-anchor="start" class="lt" textLength="43.65" lengthAdjust="spacingAndGlyphs">4040_PHI2</text>
<polygon points="180.8,700.54 185.4,695.84 234.45,695.84 234.45,705.24 185.4,705.24" class="gl"/>
<text x="187.1" y="703.39" text-anchor="start" class="lt" textLength="43.65" lengthAdjust="spacingAndGlyphs">4040_PHI1</text>
<line x1="177.8" y1="740.82" x2="183.8" y2="746.82" class="nc"/>
<line x1="177.8" y1="746.82" x2="183.8" y2="740.82" class="nc"/>
<line x1="180.8" y1="722.18" x2="185.8" y2="722.18" class="ps"/>
<rect x="185.8" y="718.68" width="16.3" height="7" class="rb"/>
<line x1="202.1" y1="722.18" x2="215.7" y2="722.18" class="w"/>
<polygon points="215.7,722.18 220.3,717.48 274.2,717.48 274.2,726.88 220.3,726.88" class="gl"/>
<text x="222" y="725.03" text-anchor="start" class="lt" textLength="48.5" lengthAdjust="spacingAndGlyphs">4040_RESET</text>
<text x="192" y="715.05" text-anchor="middle" class="rf" textLength="14.55" lengthAdjust="spacingAndGlyphs">10k</text>
<text x="204.4" y="719.85" text-anchor="start" class="rf" textLength="9.7" lengthAdjust="spacingAndGlyphs">R1</text>
<rect x="393.4" y="662" width="65.3" height="103.1" class="bd"/>
<line x1="382.3" y1="678.9" x2="393.4" y2="678.9" class="pn"/>
<text x="387.85" y="677.55" text-anchor="middle" class="pnum" textLength="4.85" lengthAdjust="spacingAndGlyphs">3</text>
<text x="396.4" y="681.75" text-anchor="start" class="pname" textLength="4.85" lengthAdjust="spacingAndGlyphs">A</text>
<line x1="382.3" y1="689.72" x2="393.4" y2="689.72" class="pn"/>
<text x="387.85" y="688.37" text-anchor="middle" class="pnum" textLength="4.85" lengthAdjust="spacingAndGlyphs">6</text>
<text x="396.4" y="692.57" text-anchor="start" class="pname" textLength="4.85" lengthAdjust="spacingAndGlyphs">B</text>
<line x1="382.3" y1="700.54" x2="393.4" y2="700.54" class="pn"/>
<text x="387.85" y="699.19" text-anchor="middle" class="pnum" textLength="9.7" lengthAdjust="spacingAndGlyphs">10</text>
<text x="396.4" y="703.39" text-anchor="start" class="pname" textLength="4.85" lengthAdjust="spacingAndGlyphs">C</text>
<line x1="382.3" y1="711.36" x2="393.4" y2="711.36" class="pn"/>
<text x="387.85" y="710.01" text-anchor="middle" class="pnum" textLength="9.7" lengthAdjust="spacingAndGlyphs">14</text>
<text x="396.4" y="714.21" text-anchor="start" class="pname" textLength="4.85" lengthAdjust="spacingAndGlyphs">D</text>
<line x1="382.3" y1="722.18" x2="393.4" y2="722.18" class="pn"/>
<text x="387.85" y="720.83" text-anchor="middle" class="pnum" textLength="4.85" lengthAdjust="spacingAndGlyphs">2</text>
<text x="396.4" y="725.03" text-anchor="start" class="pname" textLength="36.76" lengthAdjust="spacingAndGlyphs">Enable_A</text>
<line x1="382.3" y1="733" x2="393.4" y2="733" class="pn"/>
<text x="387.85" y="731.65" text-anchor="middle" class="pnum" textLength="4.85" lengthAdjust="spacingAndGlyphs">7</text>
<text x="396.4" y="735.85" text-anchor="start" class="pname" textLength="36.76" lengthAdjust="spacingAndGlyphs">Enable_B</text>
<line x1="382.3" y1="743.82" x2="393.4" y2="743.82" class="pn"/>
<text x="387.85" y="742.47" text-anchor="middle" class="pnum" textLength="4.85" lengthAdjust="spacingAndGlyphs">9</text>
<text x="396.4" y="746.67" text-anchor="start" class="pname" textLength="36.76" lengthAdjust="spacingAndGlyphs">Enable_C</text>
<line x1="382.3" y1="754.64" x2="393.4" y2="754.64" class="pn"/>
<text x="387.85" y="753.29" text-anchor="middle" class="pnum" textLength="9.7" lengthAdjust="spacingAndGlyphs">15</text>
<text x="396.4" y="757.49" text-anchor="start" class="pname" textLength="36.76" lengthAdjust="spacingAndGlyphs">Enable_D</text>
<line x1="458.7" y1="678.9" x2="469.9" y2="678.9" class="pn"/>
<text x="464.3" y="677.55" text-anchor="middle" class="pnum" textLength="4.85" lengthAdjust="spacingAndGlyphs">4</text>
<text x="455.7" y="681.75" text-anchor="end" class="pname" textLength="4.85" lengthAdjust="spacingAndGlyphs">E</text>
<line x1="458.7" y1="700.54" x2="469.9" y2="700.54" class="pn"/>
<text x="464.3" y="699.19" text-anchor="middle" class="pnum" textLength="4.85" lengthAdjust="spacingAndGlyphs">5</text>
<text x="455.7" y="703.39" text-anchor="end" class="pname" textLength="4.85" lengthAdjust="spacingAndGlyphs">F</text>
<line x1="458.7" y1="722.18" x2="469.9" y2="722.18" class="pn"/>
<text x="464.3" y="720.83" text-anchor="middle" class="pnum" textLength="9.7" lengthAdjust="spacingAndGlyphs">11</text>
<text x="455.7" y="725.03" text-anchor="end" class="pname" textLength="4.85" lengthAdjust="spacingAndGlyphs">G</text>
<line x1="458.7" y1="743.82" x2="469.9" y2="743.82" class="pn"/>
<text x="464.3" y="742.47" text-anchor="middle" class="pnum" textLength="9.7" lengthAdjust="spacingAndGlyphs">13</text>
<text x="455.7" y="746.67" text-anchor="end" class="pname" textLength="4.85" lengthAdjust="spacingAndGlyphs">H</text>
<line x1="409.3" y1="651" x2="409.3" y2="662" class="pn"/>
<text transform="translate(405.1,656.5) rotate(-90)" x="0" y="2.85" text-anchor="middle" class="pnum" textLength="9.7" lengthAdjust="spacingAndGlyphs">16</text>
<text transform="translate(409.3,665) rotate(-90)" x="0" y="2.85" text-anchor="end" class="pname" textLength="14.55" lengthAdjust="spacingAndGlyphs">Vdd</text>
<line x1="442.3" y1="651" x2="442.3" y2="662" class="pn"/>
<text transform="translate(438.1,656.5) rotate(-90)" x="0" y="2.85" text-anchor="middle" class="pnum" textLength="4.85" lengthAdjust="spacingAndGlyphs">1</text>
<text transform="translate(442.3,665) rotate(-90)" x="0" y="2.85" text-anchor="end" class="pname" textLength="14.55" lengthAdjust="spacingAndGlyphs">Vcc</text>
<line x1="442.3" y1="765.1" x2="442.3" y2="776.1" class="pn"/>
<text transform="translate(438.1,770.6) rotate(-90)" x="0" y="2.85" text-anchor="middle" class="pnum" textLength="4.85" lengthAdjust="spacingAndGlyphs">8</text>
<text transform="translate(442.3,762.1) rotate(-90)" x="0" y="2.85" text-anchor="start" class="pname" textLength="14.55" lengthAdjust="spacingAndGlyphs">Vss</text>
<line x1="442.3" y1="776.1" x2="442.3" y2="787.7" class="ps"/>
<polygon points="436.8,787.7 447.8,787.7 442.3,793.2" class="gs"/>
<text x="389.5" y="774.45" text-anchor="start" class="rf" textLength="38.8" lengthAdjust="spacingAndGlyphs">CD40109B</text>
<text x="447.4" y="774.45" text-anchor="start" class="rf" textLength="9.7" lengthAdjust="spacingAndGlyphs">U3</text>
<line x1="409.3" y1="651" x2="409.3" y2="613" class="w"/>
<circle cx="409.3" cy="623.8" r="2.2" class="j"/>
<polyline points="405.7,608.1 409.3,602.6 412.9,608.1" class="ps"/>
<line x1="409.3" y1="602.6" x2="409.3" y2="613" class="ps"/>
<text x="411.3" y="596.45" text-anchor="middle" class="rf" textLength="19.4" lengthAdjust="spacingAndGlyphs">+15V</text>
<line x1="442.3" y1="651" x2="442.3" y2="613" class="w"/>
<circle cx="442.3" cy="623.8" r="2.2" class="j"/>
<polyline points="438.7,608.1 442.3,602.6 445.9,608.1" class="ps"/>
<line x1="442.3" y1="602.6" x2="442.3" y2="613" class="ps"/>
<text x="444.3" y="596.45" text-anchor="middle" class="rf" textLength="22.21" lengthAdjust="spacingAndGlyphs">+3.3V</text>
<line x1="409.3" y1="623.8" x2="400" y2="623.8" class="ps"/>
<line x1="391.5" y1="616.7" x2="391.5" y2="630.9" class="cp"/>
<line x1="396.3" y1="616.7" x2="396.3" y2="630.9" class="cp"/>
<line x1="396.3" y1="623.8" x2="409.3" y2="623.8" class="ps"/>
<polyline points="391.5,623.8 376.8,623.8 376.8,639.3" class="ps"/>
<polygon points="371.3,639.3 382.3,639.3 376.8,644.8" class="gs"/>
<text x="394" y="615.35" text-anchor="middle" class="rf" textLength="19.4" lengthAdjust="spacingAndGlyphs">100n</text>
<text x="396" y="637.95" text-anchor="middle" class="rf" textLength="14.55" lengthAdjust="spacingAndGlyphs">C13</text>
<line x1="457.9" y1="616.7" x2="457.9" y2="630.9" class="cp"/>
<line x1="462.1" y1="616.7" x2="462.1" y2="630.9" class="cp"/>
<line x1="442.3" y1="623.8" x2="457.9" y2="623.8" class="ps"/>
<polyline points="462.1,623.8 470,623.8 470,639.3" class="ps"/>
<polygon points="464.5,639.3 475.5,639.3 470,644.8" class="gs"/>
<text x="459.3" y="615.35" text-anchor="middle" class="rf" textLength="19.4" lengthAdjust="spacingAndGlyphs">100n</text>
<text x="461" y="637.95" text-anchor="middle" class="rf" textLength="14.55" lengthAdjust="spacingAndGlyphs">C14</text>
<polygon points="287.55,674.2 342.2,674.2 346.8,678.9 342.2,683.6 287.55,683.6" class="gl"/>
<text x="289.75" y="681.75" text-anchor="start" class="lt" textLength="49.25" lengthAdjust="spacingAndGlyphs">STM_OUT_D1</text>
<line x1="346.8" y1="678.9" x2="382.3" y2="678.9" class="w"/>
<polygon points="287.55,685.02 342.2,685.02 346.8,689.72 342.2,694.42 287.55,694.42" class="gl"/>
<text x="289.75" y="692.57" text-anchor="start" class="lt" textLength="49.25" lengthAdjust="spacingAndGlyphs">STM_OUT_D0</text>
<line x1="346.8" y1="689.72" x2="382.3" y2="689.72" class="w"/>
<polygon points="287.55,695.84 342.2,695.84 346.8,700.54 342.2,705.24 287.55,705.24" class="gl"/>
<text x="289.75" y="703.39" text-anchor="start" class="lt" textLength="49.25" lengthAdjust="spacingAndGlyphs">STM_OUT_D3</text>
<line x1="346.8" y1="700.54" x2="382.3" y2="700.54" class="w"/>
<polygon points="287.55,706.66 342.2,706.66 346.8,711.36 342.2,716.06 287.55,716.06" class="gl"/>
<text x="289.75" y="714.21" text-anchor="start" class="lt" textLength="49.25" lengthAdjust="spacingAndGlyphs">STM_OUT_D2</text>
<line x1="346.8" y1="711.36" x2="382.3" y2="711.36" class="w"/>
<polygon points="278.75,717.48 343.1,717.48 347.7,722.18 343.1,726.88 278.75,726.88" class="gl"/>
<text x="280.95" y="725.03" text-anchor="start" class="lt" textLength="58.95" lengthAdjust="spacingAndGlyphs">STM_OUT_DBUS</text>
<line x1="347.7" y1="722.18" x2="382.3" y2="722.18" class="w"/>
<circle cx="359.8" cy="722.18" r="2.2" class="j"/>
<circle cx="371.7" cy="722.18" r="2.2" class="j"/>
<line x1="371.7" y1="722.18" x2="371.7" y2="754.64" class="w"/>
<line x1="371.7" y1="733" x2="382.3" y2="733" class="w"/>
<line x1="371.7" y1="743.82" x2="382.3" y2="743.82" class="w"/>
<line x1="371.7" y1="754.64" x2="382.3" y2="754.64" class="w"/>
<circle cx="371.7" cy="733" r="2.2" class="j"/>
<circle cx="371.7" cy="743.82" r="2.2" class="j"/>
<line x1="359.8" y1="722.18" x2="359.8" y2="757.4" class="w"/>
<rect x="356.2" y="757.4" width="7.2" height="16.1" class="rb"/>
<line x1="359.8" y1="773.5" x2="359.8" y2="787.6" class="ps"/>
<polygon points="354.3,787.6 365.3,787.6 359.8,793.1" class="gs"/>
<text x="354.7" y="768.75" text-anchor="end" class="rf" textLength="14.55" lengthAdjust="spacingAndGlyphs">10k</text>
<text x="365.5" y="768.75" text-anchor="start" class="rf" textLength="9.7" lengthAdjust="spacingAndGlyphs">R2</text>
<line x1="469.9" y1="678.9" x2="474.8" y2="678.9" class="ps"/>
<rect x="474.8" y="675.4" width="15.5" height="7" class="rb"/>
<line x1="490.3" y1="678.9" x2="507.3" y2="678.9" class="w"/>
<polygon points="507.3,678.9 511.9,674.2 551.25,674.2 551.25,683.6 511.9,683.6" class="gl"/>
<text x="513.6" y="681.75" text-anchor="start" class="lt" textLength="33.95" lengthAdjust="spacingAndGlyphs">4040_D1</text>
<text x="482.5" y="670.85" text-anchor="middle" class="rf" textLength="14.55" lengthAdjust="spacingAndGlyphs">220</text>
<text x="494.6" y="675.95" text-anchor="start" class="rf" textLength="9.7" lengthAdjust="spacingAndGlyphs">R4</text>
<line x1="469.9" y1="700.54" x2="474.8" y2="700.54" class="ps"/>
<rect x="474.8" y="697.04" width="15.5" height="7" class="rb"/>
<line x1="490.3" y1="700.54" x2="507.3" y2="700.54" class="w"/>
<polygon points="507.3,700.54 511.9,695.84 551.25,695.84 551.25,705.24 511.9,705.24" class="gl"/>
<text x="513.6" y="703.39" text-anchor="start" class="lt" textLength="33.95" lengthAdjust="spacingAndGlyphs">4040_D0</text>
<text x="482.5" y="692.49" text-anchor="middle" class="rf" textLength="14.55" lengthAdjust="spacingAndGlyphs">220</text>
<text x="494.6" y="697.59" text-anchor="start" class="rf" textLength="9.7" lengthAdjust="spacingAndGlyphs">R6</text>
<line x1="469.9" y1="722.18" x2="475.6" y2="722.18" class="ps"/>
<rect x="475.6" y="718.68" width="15.5" height="7" class="rb"/>
<line x1="491.1" y1="722.18" x2="507.3" y2="722.18" class="w"/>
<polygon points="507.3,722.18 511.9,717.48 551.25,717.48 551.25,726.88 511.9,726.88" class="gl"/>
<text x="513.6" y="725.03" text-anchor="start" class="lt" textLength="33.95" lengthAdjust="spacingAndGlyphs">4040_D3</text>
<text x="483.3" y="714.13" text-anchor="middle" class="rf" textLength="14.55" lengthAdjust="spacingAndGlyphs">220</text>
<text x="495.4" y="719.23" text-anchor="start" class="rf" textLength="9.7" lengthAdjust="spacingAndGlyphs">R3</text>
<line x1="469.9" y1="743.82" x2="476.4" y2="743.82" class="ps"/>
<rect x="476.4" y="740.32" width="15.5" height="7" class="rb"/>
<line x1="491.9" y1="743.82" x2="507.3" y2="743.82" class="w"/>
<polygon points="507.3,743.82 511.9,739.12 551.25,739.12 551.25,748.52 511.9,748.52" class="gl"/>
<text x="513.6" y="746.67" text-anchor="start" class="lt" textLength="33.95" lengthAdjust="spacingAndGlyphs">4040_D2</text>
<text x="484.1" y="735.77" text-anchor="middle" class="rf" textLength="14.55" lengthAdjust="spacingAndGlyphs">220</text>
<text x="496.2" y="740.87" text-anchor="start" class="rf" textLength="9.7" lengthAdjust="spacingAndGlyphs">R5</text>
<polygon points="566.2,680.3 616,680.3 620.6,685 616,689.7 566.2,689.7" class="gl"/>
<text x="568.4" y="687.85" text-anchor="start" class="lt" textLength="44.4" lengthAdjust="spacingAndGlyphs">STM_RESET</text>
<line x1="620.6" y1="685" x2="623.7" y2="685" class="ps"/>
<rect x="623.7" y="681.5" width="15.5" height="7" class="rb"/>
<line x1="639.2" y1="685" x2="678.5" y2="685" class="w"/>
<circle cx="657.6" cy="685" r="2.2" class="j"/>
<text x="631.5" y="678.85" text-anchor="middle" class="rf" textLength="9.7" lengthAdjust="spacingAndGlyphs">R7</text>
<text x="631.5" y="697.25" text-anchor="middle" class="rf" textLength="14.55" lengthAdjust="spacingAndGlyphs">220</text>
<polyline points="654,651.9 657.6,646.4 661.2,651.9" class="ps"/>
<line x1="657.6" y1="646.4" x2="657.6" y2="660" class="ps"/>
<text x="658" y="643.65" text-anchor="middle" class="rf" textLength="22.21" lengthAdjust="spacingAndGlyphs">+3.3V</text>
<rect x="654" y="660" width="7.2" height="16" class="rb"/>
<line x1="657.6" y1="676" x2="657.6" y2="685" class="ps"/>
<text x="652.5" y="671.05" text-anchor="end" class="rf" textLength="14.55" lengthAdjust="spacingAndGlyphs">10k</text>
<text x="663.8" y="671.05" text-anchor="start" class="rf" textLength="9.7" lengthAdjust="spacingAndGlyphs">R8</text>
<line x1="657.6" y1="685" x2="657.6" y2="693" class="ps"/>
<line x1="650.5" y1="693" x2="664.7" y2="693" class="cp"/>
<line x1="650.5" y1="697.3" x2="664.7" y2="697.3" class="cp"/>
<line x1="657.6" y1="697.3" x2="657.6" y2="711.4" class="ps"/>
<polygon points="652.1,711.4 663.1,711.4 657.6,716.9" class="gs"/>
<text x="669.4" y="698.65" text-anchor="start" class="rf" textLength="14.55" lengthAdjust="spacingAndGlyphs">C17</text>
<text x="668.5" y="709.15" text-anchor="start" class="rf" textLength="19.4" lengthAdjust="spacingAndGlyphs">100n</text>
<circle cx="680.4" cy="685" r="1.6" class="sw"/>
<circle cx="697.7" cy="685" r="1.6" class="sw"/>
<line x1="678" y1="679" x2="700" y2="679" class="ps"/>
<line x1="689" y1="671.8" x2="689" y2="679" class="ps"/>
<polyline points="699.3,685 710.4,685 710.4,711.4" class="w"/>
<polygon points="704.9,711.4 715.9,711.4 710.4,716.9" class="gs"/>
<text x="688.8" y="656.85" text-anchor="middle" class="rf" textLength="15.3" lengthAdjust="spacingAndGlyphs">SW2</text>
<text x="688.8" y="666.25" text-anchor="middle" class="rf" textLength="24.25" lengthAdjust="spacingAndGlyphs">RESET</text>
<polyline points="571.7,756.5 575.3,751 578.9,756.5" class="ps"/>
<line x1="575.3" y1="751" x2="575.3" y2="760.8" class="ps"/>
<polyline points="575.3,755 575.3,760.8 593,760.8" class="ps"/>
<circle cx="594.6" cy="760.8" r="1.6" class="sw"/>
<circle cx="594.6" cy="782.9" r="1.6" class="sw"/>
<circle cx="612.4" cy="772.1" r="1.6" class="sw"/>
<line x1="596" y1="782" x2="610.8" y2="773.2" class="ps"/>
<text x="584.4" y="747.85" text-anchor="middle" class="rf" textLength="22.21" lengthAdjust="spacingAndGlyphs">+3.3V</text>
<text x="601" y="765.65" text-anchor="start" class="rf" textLength="15.3" lengthAdjust="spacingAndGlyphs">SW1</text>
<text x="587.5" y="767.35" text-anchor="middle" class="pnum" textLength="4.85" lengthAdjust="spacingAndGlyphs">3</text>
<text x="586.3" y="790.55" text-anchor="middle" class="pnum" textLength="4.85" lengthAdjust="spacingAndGlyphs">1</text>
<text x="619" y="779.25" text-anchor="middle" class="pnum" textLength="4.85" lengthAdjust="spacingAndGlyphs">2</text>
<polyline points="593,782.9 576.2,782.9 576.2,788.5" class="ps"/>
<polygon points="570.7,788.5 581.7,788.5 576.2,794" class="gs"/>
<line x1="614" y1="772.1" x2="634.1" y2="772.1" class="ps"/>
<rect x="634.1" y="768.6" width="22.1" height="7" class="rb"/>
<line x1="656.2" y1="772.1" x2="664.6" y2="772.1" class="ps"/>
<polygon points="664.6,772.1 669.2,767.4 714.15,767.4 714.15,776.8 669.2,776.8" class="gl"/>
<text x="670.9" y="774.95" text-anchor="start" class="lt" textLength="39.55" lengthAdjust="spacingAndGlyphs">STM_BOOT</text>
<text x="645.2" y="765.15" text-anchor="middle" class="rf" textLength="9.7" lengthAdjust="spacingAndGlyphs">R9</text>
<text x="645.2" y="786.85" text-anchor="middle" class="rf" textLength="14.55" lengthAdjust="spacingAndGlyphs">10k</text>
<text x="571.4" y="804.65" text-anchor="start" class="rf" textLength="34.7" lengthAdjust="spacingAndGlyphs">SW_SPDT</text>
<line x1="722.4" y1="676.6" x2="1187" y2="676.6" class="tbl"/>
<line x1="722.4" y1="676.6" x2="722.4" y2="814.5" class="tbl"/>
<line x1="722.4" y1="743.2" x2="1187" y2="743.2" class="tbl"/>
<line x1="722.4" y1="768.8" x2="1187" y2="768.8" class="tbl"/>
<line x1="722.4" y1="786.8" x2="1187" y2="786.8" class="tbl"/>
<line x1="722.4" y1="799.2" x2="1187" y2="799.2" class="tbl"/>
<line x1="808.2" y1="786.8" x2="808.2" y2="799.2" class="tbl"/>
<line x1="1083" y1="786.8" x2="1083" y2="814.5" class="tbl"/>
<text x="727.8" y="740.1" text-anchor="start" class="tb" textLength="79" lengthAdjust="spacingAndGlyphs" style="font-family:&quot;Liberation Sans&quot;,sans-serif;font-weight:bold;font-size:10.4px">Mark Ablovatskii</text>
<text x="727.8" y="752.2" text-anchor="start" class="tr" textLength="41" lengthAdjust="spacingAndGlyphs" style="font-family:&quot;Liberation Sans&quot;,sans-serif;">Sheet: /</text>
<text x="727.8" y="764.2" text-anchor="start" class="tr" textLength="127" lengthAdjust="spacingAndGlyphs" style="font-family:&quot;Liberation Sans&quot;,sans-serif;">File: i4040-sbc.kicad_sch</text>
<text x="727.8" y="781.1" text-anchor="start" class="tb" textLength="334" lengthAdjust="spacingAndGlyphs" style="font-family:&quot;Liberation Sans&quot;,sans-serif;font-weight:bold;font-style:italic;font-size:12.5px">Title: stm32-based memory emulator for MCS4 v2</text>
<text x="727.8" y="795.6" text-anchor="start" class="tr" textLength="38.5" lengthAdjust="spacingAndGlyphs" style="font-family:&quot;Liberation Sans&quot;,sans-serif;">Size: A4</text>
<text x="822.2" y="795.6" text-anchor="start" class="tr" textLength="23.5" lengthAdjust="spacingAndGlyphs" style="font-family:&quot;Liberation Sans&quot;,sans-serif;">Date:</text>
<text x="1093.8" y="796.3" text-anchor="start" class="tb" textLength="20.5" lengthAdjust="spacingAndGlyphs" style="font-family:&quot;Liberation Sans&quot;,sans-serif;font-weight:bold;font-size:10px">Rev:</text>
<text x="727.8" y="808.4" text-anchor="start" class="tr" textLength="146" lengthAdjust="spacingAndGlyphs" style="font-family:&quot;Liberation Sans&quot;,sans-serif;">KiCad E.D.A.  eeschema 7.0.8</text>
<text x="1093.8" y="808.4" text-anchor="start" class="tr" textLength="34.5" lengthAdjust="spacingAndGlyphs" style="font-family:&quot;Liberation Sans&quot;,sans-serif;">Id: 1/1</text></svg></body></html>
